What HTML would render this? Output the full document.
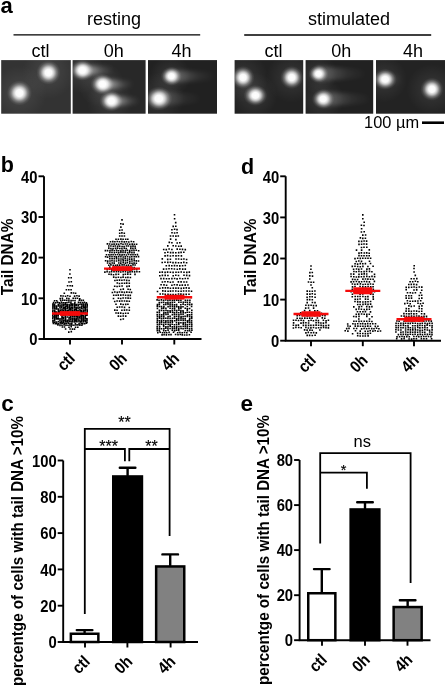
<!DOCTYPE html><html><head><meta charset="utf-8"><style>html,body{margin:0;padding:0;background:#fff;}svg{display:block}</style></head><body><svg width="445" height="685" viewBox="0 0 445 685" font-family='"Liberation Sans", Arial, sans-serif'><defs><filter id="bl2" x="-50%" y="-50%" width="200%" height="200%"><feGaussianBlur stdDeviation="2.2"/></filter><radialGradient id="hg"><stop offset="0" stop-color="#fff" stop-opacity="1"/><stop offset="0.28" stop-color="#fff" stop-opacity="0.97"/><stop offset="0.46" stop-color="#fff" stop-opacity="0.72"/><stop offset="0.66" stop-color="#fff" stop-opacity="0.32"/><stop offset="0.84" stop-color="#fff" stop-opacity="0.09"/><stop offset="1" stop-color="#fff" stop-opacity="0"/></radialGradient><radialGradient id="gw"><stop offset="0" stop-color="#fff" stop-opacity="0.12"/><stop offset="0.5" stop-color="#fff" stop-opacity="0.05"/><stop offset="1" stop-color="#fff" stop-opacity="0"/></radialGradient><linearGradient id="tg" x1="0" x2="1" y1="0" y2="0"><stop offset="0" stop-color="#fff" stop-opacity="1"/><stop offset="0.25" stop-color="#fff" stop-opacity="0.65"/><stop offset="0.6" stop-color="#fff" stop-opacity="0.22"/><stop offset="1" stop-color="#fff" stop-opacity="0"/></linearGradient><clipPath id="cp0"><rect x="1.2" y="60.1" width="69.6" height="53.6"/></clipPath><clipPath id="cp1"><rect x="72.6" y="60.1" width="73.0" height="53.6"/></clipPath><clipPath id="cp2"><rect x="148" y="60.1" width="69.0" height="53.6"/></clipPath><clipPath id="cp3"><rect x="234.6" y="60.1" width="68.6" height="53.6"/></clipPath><clipPath id="cp4"><rect x="305.6" y="60.1" width="67.6" height="53.6"/></clipPath><clipPath id="cp5"><rect x="376" y="60.1" width="69.0" height="53.6"/></clipPath></defs><text x="0.4" y="12.6" font-size="22" font-weight="bold" text-anchor="start" >a</text><text x="114" y="25" font-size="18" font-weight="normal" text-anchor="middle" >resting</text><text x="349.1" y="25" font-size="18" font-weight="normal" text-anchor="middle" >stimulated</text><path d="M13.5 34.8H200.2M244.2 35H431.2" stroke="#000" stroke-width="1.3"/><text x="40.4" y="56.7" font-size="18" font-weight="normal" text-anchor="middle" >ctl</text><text x="113.8" y="56.7" font-size="18" font-weight="normal" text-anchor="middle" >0h</text><text x="181.5" y="56.7" font-size="18" font-weight="normal" text-anchor="middle" >4h</text><text x="273.5" y="56.7" font-size="18" font-weight="normal" text-anchor="middle" >ctl</text><text x="341.2" y="56.7" font-size="18" font-weight="normal" text-anchor="middle" >0h</text><text x="412.9" y="56.7" font-size="18" font-weight="normal" text-anchor="middle" >4h</text><rect x="1.2" y="60.1" width="69.6" height="53.6" fill="rgb(51,51,51)"/><rect x="72.6" y="60.1" width="73.0" height="53.6" fill="rgb(40,40,40)"/><rect x="148" y="60.1" width="69.0" height="53.6" fill="rgb(33,33,33)"/><rect x="234.6" y="60.1" width="68.6" height="53.6" fill="rgb(34,34,34)"/><rect x="305.6" y="60.1" width="67.6" height="53.6" fill="rgb(33,33,33)"/><rect x="376" y="60.1" width="69.0" height="53.6" fill="rgb(35,35,35)"/><g clip-path="url(#cp0)"><circle cx="48.5" cy="72.6" r="26.4" fill="url(#gw)"/><circle cx="48.5" cy="72.6" r="12" fill="url(#hg)"/></g><g clip-path="url(#cp0)"><circle cx="19.4" cy="93" r="27.5" fill="url(#gw)"/><circle cx="19.4" cy="93" r="12.5" fill="url(#hg)"/></g><g clip-path="url(#cp1)"><path d="M80.9 65.3L112.9 67.3V73.3L80.9 75.3Z" fill="url(#tg)" opacity="0.8" filter="url(#bl2)"/><circle cx="80.9" cy="70.3" r="23.1" fill="url(#gw)"/><ellipse cx="82.10000000000001" cy="70.3" rx="11.8" ry="10.5" fill="url(#hg)"/></g><g clip-path="url(#cp1)"><path d="M101.1 79.2L133.1 81.2V87.2L101.1 89.2Z" fill="url(#tg)" opacity="0.8" filter="url(#bl2)"/><circle cx="101.1" cy="84.2" r="23.1" fill="url(#gw)"/><ellipse cx="102.3" cy="84.2" rx="11.8" ry="10.5" fill="url(#hg)"/></g><g clip-path="url(#cp1)"><path d="M109.9 96.0L139.9 98.0V104.0L109.9 106.0Z" fill="url(#tg)" opacity="0.75" filter="url(#bl2)"/><circle cx="109.9" cy="101" r="23.1" fill="url(#gw)"/><ellipse cx="111.10000000000001" cy="101" rx="11.8" ry="10.5" fill="url(#hg)"/></g><g clip-path="url(#cp2)"><path d="M170.1 70.2L215.1 72.6V79.8L170.1 82.2Z" fill="url(#tg)" opacity="0.35" filter="url(#bl2)"/><circle cx="170.1" cy="76.2" r="20.9" fill="url(#gw)"/><ellipse cx="171.29999999999998" cy="76.2" rx="10.6" ry="9.5" fill="url(#hg)"/></g><g clip-path="url(#cp2)"><path d="M157.6 91.6L202.6 94.4V102.8L157.6 105.6Z" fill="url(#tg)" opacity="0.25" filter="url(#bl2)"/><circle cx="157.6" cy="98.6" r="26.4" fill="url(#gw)"/><ellipse cx="158.79999999999998" cy="98.6" rx="13.4" ry="12" fill="url(#hg)"/></g><g clip-path="url(#cp3)"><circle cx="243" cy="77.5" r="25.3" fill="url(#gw)"/><circle cx="243" cy="77.5" r="11.5" fill="url(#hg)"/></g><g clip-path="url(#cp3)"><circle cx="291.7" cy="77.5" r="25.3" fill="url(#gw)"/><circle cx="291.7" cy="77.5" r="11.5" fill="url(#hg)"/></g><g clip-path="url(#cp3)"><path d="M254.2 89.4L268.2 91.8V99.0L254.2 101.4Z" fill="url(#tg)" opacity="0.25" filter="url(#bl2)"/><circle cx="254.2" cy="95.4" r="23.1" fill="url(#gw)"/><ellipse cx="255.39999999999998" cy="95.4" rx="11.8" ry="10.5" fill="url(#hg)"/></g><g clip-path="url(#cp4)"><path d="M317.3 66.8L367.3 69.6V78.0L317.3 80.8Z" fill="url(#tg)" opacity="0.3" filter="url(#bl2)"/><circle cx="317.3" cy="73.8" r="19.8" fill="url(#gw)"/><ellipse cx="318.5" cy="73.8" rx="10.1" ry="9" fill="url(#hg)"/></g><g clip-path="url(#cp4)"><path d="M321.9 92.0L371.9 94.8V103.2L321.9 106.0Z" fill="url(#tg)" opacity="0.3" filter="url(#bl2)"/><circle cx="321.9" cy="99" r="22.0" fill="url(#gw)"/><ellipse cx="323.09999999999997" cy="99" rx="11.2" ry="10" fill="url(#hg)"/></g><g clip-path="url(#cp5)"><path d="M383.9 73.3L401.9 75.7V82.9L383.9 85.3Z" fill="url(#tg)" opacity="0.25" filter="url(#bl2)"/><circle cx="383.9" cy="79.3" r="23.1" fill="url(#gw)"/><ellipse cx="385.09999999999997" cy="79.3" rx="11.8" ry="10.5" fill="url(#hg)"/></g><g clip-path="url(#cp5)"><circle cx="431.9" cy="89.2" r="25.3" fill="url(#gw)"/><circle cx="431.9" cy="89.2" r="11.5" fill="url(#hg)"/></g><text x="391.6" y="128.3" font-size="16.4" font-weight="normal" text-anchor="middle" >100 µm</text><path d="M422 122.7H444" stroke="#000" stroke-width="2.6"/><text x="0.8" y="172.2" font-size="21.5" font-weight="bold" text-anchor="start" >b</text><text x="241" y="173.5" font-size="21.5" font-weight="bold" text-anchor="start" >d</text><path d="M44 176.3V339H201.5" stroke="#000" stroke-width="1.9" fill="none"/><path d="M38.5 339.0H44" stroke="#000" stroke-width="1.9"/><text x="0" y="0" font-size="14.8" font-weight="bold" text-anchor="end" transform="translate(37.5,345.2) scale(1,1.13)">0</text><path d="M38.5 298.3H44" stroke="#000" stroke-width="1.9"/><text x="0" y="0" font-size="14.8" font-weight="bold" text-anchor="end" transform="translate(37.5,304.5) scale(1,1.13)">10</text><path d="M38.5 257.6H44" stroke="#000" stroke-width="1.9"/><text x="0" y="0" font-size="14.8" font-weight="bold" text-anchor="end" transform="translate(37.5,263.8) scale(1,1.13)">20</text><path d="M38.5 217.0H44" stroke="#000" stroke-width="1.9"/><text x="0" y="0" font-size="14.8" font-weight="bold" text-anchor="end" transform="translate(37.5,223.2) scale(1,1.13)">30</text><path d="M38.5 176.3H44" stroke="#000" stroke-width="1.9"/><text x="0" y="0" font-size="14.8" font-weight="bold" text-anchor="end" transform="translate(37.5,182.5) scale(1,1.13)">40</text><path d="M70 339V344.5" stroke="#000" stroke-width="1.9"/><text x="0" y="0" font-size="15" font-weight="bold" text-anchor="end" transform="translate(76,359.5) rotate(-45) scale(1,1.1)">ctl</text><path d="M122 339V344.5" stroke="#000" stroke-width="1.9"/><text x="0" y="0" font-size="15" font-weight="bold" text-anchor="end" transform="translate(128,359.5) rotate(-45) scale(1,1.1)">0h</text><path d="M174.3 339V344.5" stroke="#000" stroke-width="1.9"/><text x="0" y="0" font-size="15" font-weight="bold" text-anchor="end" transform="translate(180.3,359.5) rotate(-45) scale(1,1.1)">4h</text><text x="0" y="0" font-size="15.4" font-weight="bold" text-anchor="middle" transform="translate(13.4,256.8) rotate(-90) scale(1,1.12)">Tail DNA%</text><path d="M285.7 176.3V340.7H441" stroke="#000" stroke-width="1.9" fill="none"/><path d="M280.2 340.7H285.7" stroke="#000" stroke-width="1.9"/><text x="0" y="0" font-size="14.8" font-weight="bold" text-anchor="end" transform="translate(279.2,346.9) scale(1,1.13)">0</text><path d="M280.2 299.6H285.7" stroke="#000" stroke-width="1.9"/><text x="0" y="0" font-size="14.8" font-weight="bold" text-anchor="end" transform="translate(279.2,305.8) scale(1,1.13)">10</text><path d="M280.2 258.5H285.7" stroke="#000" stroke-width="1.9"/><text x="0" y="0" font-size="14.8" font-weight="bold" text-anchor="end" transform="translate(279.2,264.7) scale(1,1.13)">20</text><path d="M280.2 217.4H285.7" stroke="#000" stroke-width="1.9"/><text x="0" y="0" font-size="14.8" font-weight="bold" text-anchor="end" transform="translate(279.2,223.6) scale(1,1.13)">30</text><path d="M280.2 176.3H285.7" stroke="#000" stroke-width="1.9"/><text x="0" y="0" font-size="14.8" font-weight="bold" text-anchor="end" transform="translate(279.2,182.5) scale(1,1.13)">40</text><path d="M311 340.7V346.2" stroke="#000" stroke-width="1.9"/><text x="0" y="0" font-size="15" font-weight="bold" text-anchor="end" transform="translate(317,361.2) rotate(-45) scale(1,1.1)">ctl</text><path d="M362.8 340.7V346.2" stroke="#000" stroke-width="1.9"/><text x="0" y="0" font-size="15" font-weight="bold" text-anchor="end" transform="translate(368.8,361.2) rotate(-45) scale(1,1.1)">0h</text><path d="M414 340.7V346.2" stroke="#000" stroke-width="1.9"/><text x="0" y="0" font-size="15" font-weight="bold" text-anchor="end" transform="translate(420,361.2) rotate(-45) scale(1,1.1)">4h</text><text x="0" y="0" font-size="15.4" font-weight="bold" text-anchor="middle" transform="translate(256.3,256.8) rotate(-90) scale(1,1.12)">Tail DNA%</text><path d="M69.2 268.9h1.6v1.6h-1.6zM69.1 273.2h1.6v1.6h-1.6zM67.9 277.0h1.6v1.6h-1.6zM70.4 277.0h1.6v1.6h-1.6zM68.2 281.2h1.6v1.6h-1.6zM70.5 280.9h1.6v1.6h-1.6zM66.8 285.0h1.6v1.6h-1.6zM69.3 285.0h1.6v1.6h-1.6zM71.5 285.1h1.6v1.6h-1.6zM65.6 288.9h1.6v1.6h-1.6zM68.0 288.9h1.6v1.6h-1.6zM70.3 288.9h1.6v1.6h-1.6zM63.5 292.4h1.6v1.6h-1.6zM70.5 292.1h1.6v1.6h-1.6zM72.7 292.2h1.6v1.6h-1.6zM74.8 292.5h1.6v1.6h-1.6zM60.1 295.1h1.6v1.6h-1.6zM62.3 295.2h1.6v1.6h-1.6zM64.7 295.5h1.6v1.6h-1.6zM66.9 294.9h1.6v1.6h-1.6zM69.2 295.5h1.6v1.6h-1.6zM73.8 295.3h1.6v1.6h-1.6zM76.1 295.0h1.6v1.6h-1.6zM78.3 295.3h1.6v1.6h-1.6zM59.4 297.8h1.6v1.6h-1.6zM61.6 297.6h1.6v1.6h-1.6zM66.0 297.5h1.6v1.6h-1.6zM68.1 297.8h1.6v1.6h-1.6zM72.4 297.4h1.6v1.6h-1.6zM74.6 297.6h1.6v1.6h-1.6zM76.7 297.5h1.6v1.6h-1.6zM79.0 297.9h1.6v1.6h-1.6zM53.8 299.9h1.6v1.6h-1.6zM55.9 299.9h1.6v1.6h-1.6zM59.9 299.7h1.6v1.6h-1.6zM62.0 299.5h1.6v1.6h-1.6zM64.0 299.5h1.6v1.6h-1.6zM66.0 299.5h1.6v1.6h-1.6zM68.1 299.7h1.6v1.6h-1.6zM70.3 299.8h1.6v1.6h-1.6zM72.2 299.7h1.6v1.6h-1.6zM74.2 300.0h1.6v1.6h-1.6zM78.5 299.5h1.6v1.6h-1.6zM80.5 299.6h1.6v1.6h-1.6zM82.5 299.5h1.6v1.6h-1.6zM52.8 301.7h1.6v1.6h-1.6zM54.9 302.0h1.6v1.6h-1.6zM56.8 301.6h1.6v1.6h-1.6zM58.6 301.9h1.6v1.6h-1.6zM60.7 301.6h1.6v1.6h-1.6zM62.6 302.0h1.6v1.6h-1.6zM64.5 301.9h1.6v1.6h-1.6zM66.2 301.7h1.6v1.6h-1.6zM68.1 301.4h1.6v1.6h-1.6zM70.1 301.8h1.6v1.6h-1.6zM74.1 302.0h1.6v1.6h-1.6zM77.7 301.5h1.6v1.6h-1.6zM79.6 301.8h1.6v1.6h-1.6zM81.7 301.7h1.6v1.6h-1.6zM83.6 301.4h1.6v1.6h-1.6zM85.6 301.9h1.6v1.6h-1.6zM52.1 303.3h1.6v1.6h-1.6zM53.8 303.6h1.6v1.6h-1.6zM57.5 303.7h1.6v1.6h-1.6zM59.2 303.2h1.6v1.6h-1.6zM61.2 303.6h1.6v1.6h-1.6zM63.0 303.7h1.6v1.6h-1.6zM64.7 303.5h1.6v1.6h-1.6zM66.4 303.7h1.6v1.6h-1.6zM68.3 303.7h1.6v1.6h-1.6zM70.2 303.6h1.6v1.6h-1.6zM71.8 303.3h1.6v1.6h-1.6zM73.7 303.3h1.6v1.6h-1.6zM75.4 303.7h1.6v1.6h-1.6zM77.3 303.5h1.6v1.6h-1.6zM79.1 303.7h1.6v1.6h-1.6zM80.9 303.5h1.6v1.6h-1.6zM82.7 303.3h1.6v1.6h-1.6zM84.6 303.3h1.6v1.6h-1.6zM86.4 303.5h1.6v1.6h-1.6zM52.1 305.1h1.6v1.6h-1.6zM53.8 305.1h1.6v1.6h-1.6zM55.6 305.2h1.6v1.6h-1.6zM57.5 305.2h1.6v1.6h-1.6zM59.3 305.1h1.6v1.6h-1.6zM61.1 305.2h1.6v1.6h-1.6zM62.9 305.0h1.6v1.6h-1.6zM64.8 305.3h1.6v1.6h-1.6zM66.4 305.1h1.6v1.6h-1.6zM68.4 304.8h1.6v1.6h-1.6zM70.1 304.8h1.6v1.6h-1.6zM71.8 305.1h1.6v1.6h-1.6zM73.8 304.8h1.6v1.6h-1.6zM75.5 304.8h1.6v1.6h-1.6zM77.4 304.9h1.6v1.6h-1.6zM80.9 305.3h1.6v1.6h-1.6zM82.6 305.0h1.6v1.6h-1.6zM84.5 304.9h1.6v1.6h-1.6zM86.4 304.8h1.6v1.6h-1.6zM52.1 306.4h1.6v1.6h-1.6zM53.9 306.7h1.6v1.6h-1.6zM55.8 306.8h1.6v1.6h-1.6zM59.2 306.4h1.6v1.6h-1.6zM61.0 306.4h1.6v1.6h-1.6zM63.0 306.8h1.6v1.6h-1.6zM64.6 306.9h1.6v1.6h-1.6zM66.6 306.4h1.6v1.6h-1.6zM68.4 306.6h1.6v1.6h-1.6zM70.2 306.7h1.6v1.6h-1.6zM71.8 306.9h1.6v1.6h-1.6zM73.8 306.6h1.6v1.6h-1.6zM75.5 306.9h1.6v1.6h-1.6zM77.2 306.7h1.6v1.6h-1.6zM79.0 306.4h1.6v1.6h-1.6zM80.8 306.5h1.6v1.6h-1.6zM82.8 306.5h1.6v1.6h-1.6zM84.4 306.6h1.6v1.6h-1.6zM86.2 306.4h1.6v1.6h-1.6zM52.1 308.1h1.6v1.6h-1.6zM54.0 308.0h1.6v1.6h-1.6zM55.7 308.2h1.6v1.6h-1.6zM57.5 308.3h1.6v1.6h-1.6zM59.4 308.2h1.6v1.6h-1.6zM61.2 308.3h1.6v1.6h-1.6zM62.9 308.0h1.6v1.6h-1.6zM64.6 308.4h1.6v1.6h-1.6zM66.4 308.0h1.6v1.6h-1.6zM68.4 308.3h1.6v1.6h-1.6zM70.0 308.1h1.6v1.6h-1.6zM71.8 308.2h1.6v1.6h-1.6zM73.8 308.5h1.6v1.6h-1.6zM75.4 308.5h1.6v1.6h-1.6zM77.3 307.9h1.6v1.6h-1.6zM79.1 308.2h1.6v1.6h-1.6zM80.9 307.9h1.6v1.6h-1.6zM82.6 308.2h1.6v1.6h-1.6zM84.4 308.1h1.6v1.6h-1.6zM86.3 308.3h1.6v1.6h-1.6zM52.1 310.0h1.6v1.6h-1.6zM53.9 309.7h1.6v1.6h-1.6zM57.6 309.9h1.6v1.6h-1.6zM59.4 310.1h1.6v1.6h-1.6zM61.2 310.0h1.6v1.6h-1.6zM62.9 309.8h1.6v1.6h-1.6zM64.8 310.0h1.6v1.6h-1.6zM66.6 310.0h1.6v1.6h-1.6zM68.2 309.6h1.6v1.6h-1.6zM70.1 309.6h1.6v1.6h-1.6zM71.9 309.9h1.6v1.6h-1.6zM73.8 309.8h1.6v1.6h-1.6zM75.6 310.0h1.6v1.6h-1.6zM77.3 309.9h1.6v1.6h-1.6zM79.2 309.7h1.6v1.6h-1.6zM80.8 310.0h1.6v1.6h-1.6zM82.8 310.1h1.6v1.6h-1.6zM84.5 309.8h1.6v1.6h-1.6zM86.4 309.9h1.6v1.6h-1.6zM52.0 311.2h1.6v1.6h-1.6zM54.0 311.3h1.6v1.6h-1.6zM55.6 311.2h1.6v1.6h-1.6zM57.6 311.6h1.6v1.6h-1.6zM59.2 311.5h1.6v1.6h-1.6zM61.1 311.2h1.6v1.6h-1.6zM62.8 311.7h1.6v1.6h-1.6zM64.6 311.4h1.6v1.6h-1.6zM66.6 311.4h1.6v1.6h-1.6zM68.2 311.7h1.6v1.6h-1.6zM70.1 311.2h1.6v1.6h-1.6zM72.0 311.2h1.6v1.6h-1.6zM73.7 311.7h1.6v1.6h-1.6zM75.4 311.7h1.6v1.6h-1.6zM77.2 311.1h1.6v1.6h-1.6zM79.1 311.3h1.6v1.6h-1.6zM80.9 311.3h1.6v1.6h-1.6zM82.6 311.6h1.6v1.6h-1.6zM84.4 311.7h1.6v1.6h-1.6zM86.4 311.3h1.6v1.6h-1.6zM52.1 313.3h1.6v1.6h-1.6zM53.9 313.0h1.6v1.6h-1.6zM55.6 312.8h1.6v1.6h-1.6zM57.4 313.3h1.6v1.6h-1.6zM59.2 313.1h1.6v1.6h-1.6zM61.1 313.3h1.6v1.6h-1.6zM63.0 313.1h1.6v1.6h-1.6zM64.8 313.1h1.6v1.6h-1.6zM66.4 313.2h1.6v1.6h-1.6zM68.4 313.1h1.6v1.6h-1.6zM70.0 313.3h1.6v1.6h-1.6zM71.9 313.0h1.6v1.6h-1.6zM73.8 313.3h1.6v1.6h-1.6zM75.5 312.9h1.6v1.6h-1.6zM77.3 312.8h1.6v1.6h-1.6zM79.0 313.3h1.6v1.6h-1.6zM80.8 313.3h1.6v1.6h-1.6zM84.4 312.9h1.6v1.6h-1.6zM86.3 312.8h1.6v1.6h-1.6zM52.0 314.7h1.6v1.6h-1.6zM54.0 314.6h1.6v1.6h-1.6zM55.7 314.6h1.6v1.6h-1.6zM57.4 314.5h1.6v1.6h-1.6zM61.1 314.7h1.6v1.6h-1.6zM62.8 314.5h1.6v1.6h-1.6zM64.7 314.6h1.6v1.6h-1.6zM68.4 314.4h1.6v1.6h-1.6zM70.2 314.9h1.6v1.6h-1.6zM71.9 314.3h1.6v1.6h-1.6zM73.8 314.8h1.6v1.6h-1.6zM75.6 314.5h1.6v1.6h-1.6zM77.2 314.7h1.6v1.6h-1.6zM79.2 314.8h1.6v1.6h-1.6zM81.0 314.6h1.6v1.6h-1.6zM82.6 314.8h1.6v1.6h-1.6zM84.6 314.7h1.6v1.6h-1.6zM86.2 314.5h1.6v1.6h-1.6zM52.2 316.0h1.6v1.6h-1.6zM53.9 316.3h1.6v1.6h-1.6zM55.6 316.3h1.6v1.6h-1.6zM57.4 316.2h1.6v1.6h-1.6zM61.2 316.2h1.6v1.6h-1.6zM62.8 316.5h1.6v1.6h-1.6zM64.6 316.0h1.6v1.6h-1.6zM66.6 316.2h1.6v1.6h-1.6zM68.4 316.5h1.6v1.6h-1.6zM70.0 316.1h1.6v1.6h-1.6zM72.0 316.1h1.6v1.6h-1.6zM73.8 316.2h1.6v1.6h-1.6zM75.6 316.1h1.6v1.6h-1.6zM77.2 316.1h1.6v1.6h-1.6zM79.0 316.5h1.6v1.6h-1.6zM80.8 316.1h1.6v1.6h-1.6zM82.7 316.5h1.6v1.6h-1.6zM84.5 316.1h1.6v1.6h-1.6zM52.0 317.6h1.6v1.6h-1.6zM54.0 318.1h1.6v1.6h-1.6zM55.8 318.1h1.6v1.6h-1.6zM57.4 318.1h1.6v1.6h-1.6zM59.2 317.9h1.6v1.6h-1.6zM61.1 317.7h1.6v1.6h-1.6zM62.8 317.7h1.6v1.6h-1.6zM64.8 317.6h1.6v1.6h-1.6zM68.3 318.0h1.6v1.6h-1.6zM70.1 317.6h1.6v1.6h-1.6zM71.9 318.1h1.6v1.6h-1.6zM73.7 318.1h1.6v1.6h-1.6zM75.5 318.0h1.6v1.6h-1.6zM77.2 317.6h1.6v1.6h-1.6zM79.2 317.7h1.6v1.6h-1.6zM81.0 317.8h1.6v1.6h-1.6zM82.8 317.9h1.6v1.6h-1.6zM84.6 317.7h1.6v1.6h-1.6zM86.2 318.0h1.6v1.6h-1.6zM52.1 319.7h1.6v1.6h-1.6zM53.8 319.4h1.6v1.6h-1.6zM59.2 319.4h1.6v1.6h-1.6zM61.2 319.3h1.6v1.6h-1.6zM63.0 319.6h1.6v1.6h-1.6zM64.7 319.3h1.6v1.6h-1.6zM66.5 319.6h1.6v1.6h-1.6zM68.2 319.6h1.6v1.6h-1.6zM70.0 319.2h1.6v1.6h-1.6zM71.8 319.7h1.6v1.6h-1.6zM73.8 319.3h1.6v1.6h-1.6zM75.4 319.4h1.6v1.6h-1.6zM77.3 319.3h1.6v1.6h-1.6zM79.1 319.6h1.6v1.6h-1.6zM81.0 319.5h1.6v1.6h-1.6zM82.8 319.3h1.6v1.6h-1.6zM84.5 319.6h1.6v1.6h-1.6zM86.2 319.3h1.6v1.6h-1.6zM52.2 321.1h1.6v1.6h-1.6zM53.9 321.3h1.6v1.6h-1.6zM55.6 321.2h1.6v1.6h-1.6zM57.6 320.8h1.6v1.6h-1.6zM59.4 321.3h1.6v1.6h-1.6zM61.0 320.9h1.6v1.6h-1.6zM62.8 321.3h1.6v1.6h-1.6zM64.8 321.0h1.6v1.6h-1.6zM66.5 320.9h1.6v1.6h-1.6zM68.4 320.8h1.6v1.6h-1.6zM70.1 320.9h1.6v1.6h-1.6zM71.8 320.9h1.6v1.6h-1.6zM73.7 321.1h1.6v1.6h-1.6zM75.4 320.9h1.6v1.6h-1.6zM77.2 320.9h1.6v1.6h-1.6zM79.2 321.1h1.6v1.6h-1.6zM80.8 321.0h1.6v1.6h-1.6zM82.7 320.8h1.6v1.6h-1.6zM84.6 321.0h1.6v1.6h-1.6zM86.2 321.3h1.6v1.6h-1.6zM52.6 322.6h1.6v1.6h-1.6zM54.6 322.9h1.6v1.6h-1.6zM56.2 322.8h1.6v1.6h-1.6zM58.0 322.9h1.6v1.6h-1.6zM60.1 322.6h1.6v1.6h-1.6zM61.8 322.4h1.6v1.6h-1.6zM63.7 322.7h1.6v1.6h-1.6zM65.4 322.7h1.6v1.6h-1.6zM67.4 322.4h1.6v1.6h-1.6zM69.2 322.9h1.6v1.6h-1.6zM71.0 322.8h1.6v1.6h-1.6zM74.6 322.9h1.6v1.6h-1.6zM78.3 322.9h1.6v1.6h-1.6zM80.4 322.7h1.6v1.6h-1.6zM82.0 322.8h1.6v1.6h-1.6zM83.9 322.9h1.6v1.6h-1.6zM85.7 322.5h1.6v1.6h-1.6zM57.1 324.1h1.6v1.6h-1.6zM59.2 324.6h1.6v1.6h-1.6zM61.2 324.5h1.6v1.6h-1.6zM63.3 324.1h1.6v1.6h-1.6zM65.2 324.4h1.6v1.6h-1.6zM67.2 324.4h1.6v1.6h-1.6zM69.2 324.3h1.6v1.6h-1.6zM71.1 324.4h1.6v1.6h-1.6zM73.1 324.5h1.6v1.6h-1.6zM75.2 324.1h1.6v1.6h-1.6zM77.1 324.1h1.6v1.6h-1.6zM79.1 324.3h1.6v1.6h-1.6zM81.1 324.4h1.6v1.6h-1.6zM61.6 326.2h1.6v1.6h-1.6zM63.7 326.2h1.6v1.6h-1.6zM68.2 326.5h1.6v1.6h-1.6zM70.4 326.0h1.6v1.6h-1.6zM74.8 326.5h1.6v1.6h-1.6zM77.0 326.5h1.6v1.6h-1.6zM64.8 328.2h1.6v1.6h-1.6zM69.3 328.2h1.6v1.6h-1.6zM71.6 328.3h1.6v1.6h-1.6zM73.7 328.3h1.6v1.6h-1.6zM68.0 331.3h1.6v1.6h-1.6zM70.5 330.8h1.6v1.6h-1.6zM121.2 219.1h1.6v1.6h-1.6zM120.0 223.0h1.6v1.6h-1.6zM122.3 223.3h1.6v1.6h-1.6zM120.1 226.3h1.6v1.6h-1.6zM118.9 229.4h1.6v1.6h-1.6zM121.3 229.2h1.6v1.6h-1.6zM118.9 232.5h1.6v1.6h-1.6zM121.1 232.1h1.6v1.6h-1.6zM123.5 232.5h1.6v1.6h-1.6zM118.9 235.2h1.6v1.6h-1.6zM121.2 235.2h1.6v1.6h-1.6zM123.6 235.2h1.6v1.6h-1.6zM115.2 238.5h1.6v1.6h-1.6zM117.6 238.4h1.6v1.6h-1.6zM120.1 238.3h1.6v1.6h-1.6zM122.3 238.5h1.6v1.6h-1.6zM124.9 238.4h1.6v1.6h-1.6zM127.0 238.5h1.6v1.6h-1.6zM109.7 241.0h1.6v1.6h-1.6zM112.0 240.8h1.6v1.6h-1.6zM114.1 241.0h1.6v1.6h-1.6zM116.5 240.7h1.6v1.6h-1.6zM118.7 241.0h1.6v1.6h-1.6zM121.1 240.8h1.6v1.6h-1.6zM123.5 241.1h1.6v1.6h-1.6zM125.7 240.9h1.6v1.6h-1.6zM128.0 241.2h1.6v1.6h-1.6zM130.5 240.7h1.6v1.6h-1.6zM132.8 241.0h1.6v1.6h-1.6zM106.6 243.1h1.6v1.6h-1.6zM108.8 243.2h1.6v1.6h-1.6zM111.2 243.5h1.6v1.6h-1.6zM113.3 243.3h1.6v1.6h-1.6zM115.7 243.3h1.6v1.6h-1.6zM117.9 243.6h1.6v1.6h-1.6zM120.2 243.0h1.6v1.6h-1.6zM122.2 243.5h1.6v1.6h-1.6zM124.6 243.2h1.6v1.6h-1.6zM126.7 243.2h1.6v1.6h-1.6zM129.0 243.4h1.6v1.6h-1.6zM131.4 243.3h1.6v1.6h-1.6zM133.5 243.5h1.6v1.6h-1.6zM135.8 243.4h1.6v1.6h-1.6zM108.0 245.2h1.6v1.6h-1.6zM110.1 245.2h1.6v1.6h-1.6zM112.5 245.4h1.6v1.6h-1.6zM114.5 245.2h1.6v1.6h-1.6zM116.8 245.6h1.6v1.6h-1.6zM118.9 245.5h1.6v1.6h-1.6zM121.3 245.7h1.6v1.6h-1.6zM123.3 245.7h1.6v1.6h-1.6zM125.7 245.2h1.6v1.6h-1.6zM127.7 245.2h1.6v1.6h-1.6zM130.1 245.6h1.6v1.6h-1.6zM132.2 245.3h1.6v1.6h-1.6zM134.3 245.6h1.6v1.6h-1.6zM108.0 247.3h1.6v1.6h-1.6zM110.1 247.7h1.6v1.6h-1.6zM112.3 247.8h1.6v1.6h-1.6zM114.7 247.6h1.6v1.6h-1.6zM116.8 247.5h1.6v1.6h-1.6zM119.0 247.7h1.6v1.6h-1.6zM121.1 247.8h1.6v1.6h-1.6zM123.5 247.4h1.6v1.6h-1.6zM125.5 247.7h1.6v1.6h-1.6zM130.0 247.6h1.6v1.6h-1.6zM132.1 247.6h1.6v1.6h-1.6zM134.5 247.4h1.6v1.6h-1.6zM104.6 249.8h1.6v1.6h-1.6zM106.8 249.8h1.6v1.6h-1.6zM109.2 249.8h1.6v1.6h-1.6zM111.3 249.6h1.6v1.6h-1.6zM113.5 249.9h1.6v1.6h-1.6zM115.8 249.4h1.6v1.6h-1.6zM117.8 249.9h1.6v1.6h-1.6zM120.1 249.9h1.6v1.6h-1.6zM122.3 249.7h1.6v1.6h-1.6zM124.6 249.8h1.6v1.6h-1.6zM126.6 249.5h1.6v1.6h-1.6zM128.9 249.8h1.6v1.6h-1.6zM131.1 249.8h1.6v1.6h-1.6zM133.2 249.6h1.6v1.6h-1.6zM135.4 249.5h1.6v1.6h-1.6zM137.8 249.9h1.6v1.6h-1.6zM109.0 251.7h1.6v1.6h-1.6zM111.2 251.7h1.6v1.6h-1.6zM113.6 251.9h1.6v1.6h-1.6zM115.8 251.5h1.6v1.6h-1.6zM118.0 251.9h1.6v1.6h-1.6zM120.1 251.6h1.6v1.6h-1.6zM122.2 251.6h1.6v1.6h-1.6zM124.4 251.7h1.6v1.6h-1.6zM126.8 251.8h1.6v1.6h-1.6zM128.9 251.6h1.6v1.6h-1.6zM131.1 251.9h1.6v1.6h-1.6zM133.3 251.8h1.6v1.6h-1.6zM105.7 254.0h1.6v1.6h-1.6zM108.1 254.0h1.6v1.6h-1.6zM110.3 254.0h1.6v1.6h-1.6zM112.3 253.9h1.6v1.6h-1.6zM114.6 254.0h1.6v1.6h-1.6zM116.8 253.7h1.6v1.6h-1.6zM119.0 253.9h1.6v1.6h-1.6zM121.3 254.1h1.6v1.6h-1.6zM123.4 254.0h1.6v1.6h-1.6zM125.6 254.2h1.6v1.6h-1.6zM127.8 253.7h1.6v1.6h-1.6zM130.1 253.9h1.6v1.6h-1.6zM132.2 253.9h1.6v1.6h-1.6zM134.4 254.0h1.6v1.6h-1.6zM136.6 253.8h1.6v1.6h-1.6zM104.8 255.9h1.6v1.6h-1.6zM106.8 256.3h1.6v1.6h-1.6zM109.0 255.8h1.6v1.6h-1.6zM111.2 255.9h1.6v1.6h-1.6zM113.6 255.9h1.6v1.6h-1.6zM115.6 256.1h1.6v1.6h-1.6zM117.9 255.8h1.6v1.6h-1.6zM120.1 255.8h1.6v1.6h-1.6zM122.4 256.2h1.6v1.6h-1.6zM124.5 256.0h1.6v1.6h-1.6zM126.8 255.9h1.6v1.6h-1.6zM129.0 256.2h1.6v1.6h-1.6zM131.0 256.0h1.6v1.6h-1.6zM133.4 255.9h1.6v1.6h-1.6zM135.4 255.9h1.6v1.6h-1.6zM137.7 255.8h1.6v1.6h-1.6zM109.0 257.9h1.6v1.6h-1.6zM111.3 258.0h1.6v1.6h-1.6zM113.5 258.0h1.6v1.6h-1.6zM115.8 257.8h1.6v1.6h-1.6zM118.0 258.2h1.6v1.6h-1.6zM120.2 258.2h1.6v1.6h-1.6zM122.2 258.3h1.6v1.6h-1.6zM124.4 257.8h1.6v1.6h-1.6zM126.6 258.2h1.6v1.6h-1.6zM128.8 258.3h1.6v1.6h-1.6zM131.0 258.3h1.6v1.6h-1.6zM133.4 258.2h1.6v1.6h-1.6zM104.8 260.0h1.6v1.6h-1.6zM106.9 260.3h1.6v1.6h-1.6zM109.2 260.2h1.6v1.6h-1.6zM111.2 260.0h1.6v1.6h-1.6zM113.4 260.2h1.6v1.6h-1.6zM115.7 260.2h1.6v1.6h-1.6zM118.0 259.9h1.6v1.6h-1.6zM120.1 260.2h1.6v1.6h-1.6zM122.4 260.1h1.6v1.6h-1.6zM124.6 259.9h1.6v1.6h-1.6zM126.7 259.9h1.6v1.6h-1.6zM129.0 260.4h1.6v1.6h-1.6zM131.2 260.2h1.6v1.6h-1.6zM133.4 259.9h1.6v1.6h-1.6zM135.5 260.1h1.6v1.6h-1.6zM137.7 260.2h1.6v1.6h-1.6zM106.8 262.2h1.6v1.6h-1.6zM109.1 262.5h1.6v1.6h-1.6zM111.4 262.2h1.6v1.6h-1.6zM113.4 262.3h1.6v1.6h-1.6zM118.0 262.2h1.6v1.6h-1.6zM120.0 262.3h1.6v1.6h-1.6zM122.4 262.0h1.6v1.6h-1.6zM124.6 262.3h1.6v1.6h-1.6zM126.6 262.0h1.6v1.6h-1.6zM129.0 262.3h1.6v1.6h-1.6zM131.2 262.5h1.6v1.6h-1.6zM133.3 262.3h1.6v1.6h-1.6zM135.5 262.4h1.6v1.6h-1.6zM108.0 264.5h1.6v1.6h-1.6zM110.1 264.1h1.6v1.6h-1.6zM112.5 264.5h1.6v1.6h-1.6zM114.7 264.5h1.6v1.6h-1.6zM116.7 264.3h1.6v1.6h-1.6zM118.9 264.3h1.6v1.6h-1.6zM121.3 264.1h1.6v1.6h-1.6zM123.3 264.1h1.6v1.6h-1.6zM125.6 264.6h1.6v1.6h-1.6zM127.7 264.3h1.6v1.6h-1.6zM130.1 264.7h1.6v1.6h-1.6zM132.2 264.1h1.6v1.6h-1.6zM134.3 264.2h1.6v1.6h-1.6zM109.0 266.3h1.6v1.6h-1.6zM113.5 266.3h1.6v1.6h-1.6zM115.7 266.3h1.6v1.6h-1.6zM117.8 266.2h1.6v1.6h-1.6zM120.1 266.7h1.6v1.6h-1.6zM122.2 266.6h1.6v1.6h-1.6zM124.5 266.7h1.6v1.6h-1.6zM126.9 266.6h1.6v1.6h-1.6zM128.9 266.6h1.6v1.6h-1.6zM131.1 266.4h1.6v1.6h-1.6zM133.4 266.7h1.6v1.6h-1.6zM106.4 268.8h1.6v1.6h-1.6zM108.8 268.5h1.6v1.6h-1.6zM111.0 268.8h1.6v1.6h-1.6zM113.2 268.6h1.6v1.6h-1.6zM115.7 268.9h1.6v1.6h-1.6zM117.7 268.4h1.6v1.6h-1.6zM122.4 268.6h1.6v1.6h-1.6zM124.7 268.9h1.6v1.6h-1.6zM126.8 268.7h1.6v1.6h-1.6zM129.1 268.8h1.6v1.6h-1.6zM131.5 268.9h1.6v1.6h-1.6zM133.5 268.6h1.6v1.6h-1.6zM135.9 268.9h1.6v1.6h-1.6zM104.1 271.3h1.6v1.6h-1.6zM106.3 270.9h1.6v1.6h-1.6zM108.7 271.2h1.6v1.6h-1.6zM110.8 270.8h1.6v1.6h-1.6zM113.2 270.9h1.6v1.6h-1.6zM115.6 270.9h1.6v1.6h-1.6zM117.8 271.0h1.6v1.6h-1.6zM120.0 271.2h1.6v1.6h-1.6zM122.3 270.8h1.6v1.6h-1.6zM124.7 270.9h1.6v1.6h-1.6zM127.1 271.3h1.6v1.6h-1.6zM129.2 271.1h1.6v1.6h-1.6zM131.4 270.9h1.6v1.6h-1.6zM133.8 271.1h1.6v1.6h-1.6zM136.1 270.9h1.6v1.6h-1.6zM138.6 271.0h1.6v1.6h-1.6zM108.2 273.4h1.6v1.6h-1.6zM110.4 273.6h1.6v1.6h-1.6zM112.7 273.9h1.6v1.6h-1.6zM115.2 273.6h1.6v1.6h-1.6zM117.7 273.5h1.6v1.6h-1.6zM122.5 273.8h1.6v1.6h-1.6zM124.6 273.4h1.6v1.6h-1.6zM127.0 273.3h1.6v1.6h-1.6zM129.6 273.5h1.6v1.6h-1.6zM134.2 273.6h1.6v1.6h-1.6zM112.9 276.3h1.6v1.6h-1.6zM115.2 276.7h1.6v1.6h-1.6zM117.6 276.4h1.6v1.6h-1.6zM120.1 276.7h1.6v1.6h-1.6zM122.3 276.3h1.6v1.6h-1.6zM124.9 276.7h1.6v1.6h-1.6zM127.1 276.6h1.6v1.6h-1.6zM129.6 276.7h1.6v1.6h-1.6zM114.1 279.7h1.6v1.6h-1.6zM116.3 279.5h1.6v1.6h-1.6zM118.7 279.3h1.6v1.6h-1.6zM121.1 279.4h1.6v1.6h-1.6zM123.5 279.2h1.6v1.6h-1.6zM125.9 279.6h1.6v1.6h-1.6zM128.3 279.7h1.6v1.6h-1.6zM116.5 282.2h1.6v1.6h-1.6zM118.7 282.7h1.6v1.6h-1.6zM121.2 282.4h1.6v1.6h-1.6zM123.7 282.4h1.6v1.6h-1.6zM125.9 282.3h1.6v1.6h-1.6zM128.5 282.5h1.6v1.6h-1.6zM113.9 285.4h1.6v1.6h-1.6zM116.3 285.7h1.6v1.6h-1.6zM118.7 285.4h1.6v1.6h-1.6zM121.3 285.2h1.6v1.6h-1.6zM126.1 285.6h1.6v1.6h-1.6zM128.4 285.3h1.6v1.6h-1.6zM112.8 288.7h1.6v1.6h-1.6zM119.9 288.7h1.6v1.6h-1.6zM122.5 288.3h1.6v1.6h-1.6zM127.3 288.4h1.6v1.6h-1.6zM129.5 288.7h1.6v1.6h-1.6zM111.6 291.7h1.6v1.6h-1.6zM114.0 291.2h1.6v1.6h-1.6zM116.5 291.6h1.6v1.6h-1.6zM118.7 291.2h1.6v1.6h-1.6zM121.2 291.3h1.6v1.6h-1.6zM123.6 291.6h1.6v1.6h-1.6zM126.0 291.3h1.6v1.6h-1.6zM128.5 291.4h1.6v1.6h-1.6zM130.7 291.6h1.6v1.6h-1.6zM112.9 294.5h1.6v1.6h-1.6zM115.3 294.4h1.6v1.6h-1.6zM117.5 294.3h1.6v1.6h-1.6zM120.0 294.3h1.6v1.6h-1.6zM122.4 294.2h1.6v1.6h-1.6zM124.8 294.5h1.6v1.6h-1.6zM127.3 294.6h1.6v1.6h-1.6zM129.5 294.6h1.6v1.6h-1.6zM112.7 297.7h1.6v1.6h-1.6zM117.6 297.5h1.6v1.6h-1.6zM119.9 297.7h1.6v1.6h-1.6zM122.3 297.2h1.6v1.6h-1.6zM124.9 297.2h1.6v1.6h-1.6zM127.3 297.3h1.6v1.6h-1.6zM129.6 297.5h1.6v1.6h-1.6zM113.9 300.7h1.6v1.6h-1.6zM116.3 300.2h1.6v1.6h-1.6zM118.8 300.3h1.6v1.6h-1.6zM121.2 300.2h1.6v1.6h-1.6zM123.7 300.2h1.6v1.6h-1.6zM126.1 300.3h1.6v1.6h-1.6zM128.5 300.4h1.6v1.6h-1.6zM115.2 303.4h1.6v1.6h-1.6zM120.0 303.3h1.6v1.6h-1.6zM122.4 303.7h1.6v1.6h-1.6zM124.9 303.6h1.6v1.6h-1.6zM127.1 303.5h1.6v1.6h-1.6zM116.4 306.5h1.6v1.6h-1.6zM118.8 306.2h1.6v1.6h-1.6zM121.2 306.2h1.6v1.6h-1.6zM123.7 306.6h1.6v1.6h-1.6zM128.5 306.7h1.6v1.6h-1.6zM114.0 309.3h1.6v1.6h-1.6zM116.3 309.5h1.6v1.6h-1.6zM121.1 309.5h1.6v1.6h-1.6zM123.7 309.3h1.6v1.6h-1.6zM126.0 309.2h1.6v1.6h-1.6zM128.5 309.5h1.6v1.6h-1.6zM115.2 312.2h1.6v1.6h-1.6zM117.5 312.3h1.6v1.6h-1.6zM119.9 312.3h1.6v1.6h-1.6zM122.4 312.7h1.6v1.6h-1.6zM124.8 312.5h1.6v1.6h-1.6zM127.3 312.4h1.6v1.6h-1.6zM117.6 315.3h1.6v1.6h-1.6zM119.9 315.5h1.6v1.6h-1.6zM122.4 315.2h1.6v1.6h-1.6zM124.9 315.3h1.6v1.6h-1.6zM119.9 318.7h1.6v1.6h-1.6zM122.5 318.2h1.6v1.6h-1.6zM173.7 213.9h1.6v1.6h-1.6zM173.8 218.0h1.6v1.6h-1.6zM174.9 221.8h1.6v1.6h-1.6zM172.4 225.6h1.6v1.6h-1.6zM175.0 225.5h1.6v1.6h-1.6zM171.1 228.9h1.6v1.6h-1.6zM173.8 228.5h1.6v1.6h-1.6zM176.2 228.8h1.6v1.6h-1.6zM171.2 232.0h1.6v1.6h-1.6zM173.8 232.2h1.6v1.6h-1.6zM176.3 232.0h1.6v1.6h-1.6zM169.7 235.2h1.6v1.6h-1.6zM172.4 235.2h1.6v1.6h-1.6zM175.1 235.3h1.6v1.6h-1.6zM177.5 235.2h1.6v1.6h-1.6zM169.8 238.3h1.6v1.6h-1.6zM175.1 238.8h1.6v1.6h-1.6zM168.5 241.6h1.6v1.6h-1.6zM171.1 241.9h1.6v1.6h-1.6zM176.4 242.2h1.6v1.6h-1.6zM179.0 242.0h1.6v1.6h-1.6zM167.0 245.1h1.6v1.6h-1.6zM172.4 244.9h1.6v1.6h-1.6zM175.0 245.2h1.6v1.6h-1.6zM177.9 245.5h1.6v1.6h-1.6zM180.4 245.3h1.6v1.6h-1.6zM162.9 248.7h1.6v1.6h-1.6zM165.5 248.8h1.6v1.6h-1.6zM168.3 248.2h1.6v1.6h-1.6zM171.1 248.7h1.6v1.6h-1.6zM176.4 248.3h1.6v1.6h-1.6zM179.1 248.5h1.6v1.6h-1.6zM181.7 248.6h1.6v1.6h-1.6zM184.5 248.8h1.6v1.6h-1.6zM164.2 252.0h1.6v1.6h-1.6zM167.0 251.5h1.6v1.6h-1.6zM169.8 251.8h1.6v1.6h-1.6zM172.3 251.8h1.6v1.6h-1.6zM175.0 251.9h1.6v1.6h-1.6zM177.9 251.8h1.6v1.6h-1.6zM180.3 251.6h1.6v1.6h-1.6zM183.0 251.5h1.6v1.6h-1.6zM164.3 255.1h1.6v1.6h-1.6zM166.8 254.8h1.6v1.6h-1.6zM169.6 255.2h1.6v1.6h-1.6zM172.3 254.9h1.6v1.6h-1.6zM175.2 255.1h1.6v1.6h-1.6zM177.7 255.0h1.6v1.6h-1.6zM180.6 255.1h1.6v1.6h-1.6zM161.5 258.1h1.6v1.6h-1.6zM166.9 258.6h1.6v1.6h-1.6zM169.6 258.4h1.6v1.6h-1.6zM175.2 258.2h1.6v1.6h-1.6zM177.8 258.2h1.6v1.6h-1.6zM180.6 258.4h1.6v1.6h-1.6zM183.1 258.2h1.6v1.6h-1.6zM185.8 258.7h1.6v1.6h-1.6zM161.4 261.7h1.6v1.6h-1.6zM164.2 261.4h1.6v1.6h-1.6zM167.0 261.6h1.6v1.6h-1.6zM169.6 261.5h1.6v1.6h-1.6zM172.2 261.8h1.6v1.6h-1.6zM174.9 261.8h1.6v1.6h-1.6zM177.7 261.9h1.6v1.6h-1.6zM180.4 261.9h1.6v1.6h-1.6zM183.0 261.6h1.6v1.6h-1.6zM185.8 262.0h1.6v1.6h-1.6zM165.5 264.9h1.6v1.6h-1.6zM168.4 264.8h1.6v1.6h-1.6zM171.0 264.9h1.6v1.6h-1.6zM173.7 264.8h1.6v1.6h-1.6zM176.3 265.0h1.6v1.6h-1.6zM179.0 265.1h1.6v1.6h-1.6zM181.8 265.0h1.6v1.6h-1.6zM184.5 264.7h1.6v1.6h-1.6zM162.8 268.3h1.6v1.6h-1.6zM165.6 268.2h1.6v1.6h-1.6zM168.2 268.0h1.6v1.6h-1.6zM170.9 268.0h1.6v1.6h-1.6zM173.6 268.2h1.6v1.6h-1.6zM176.5 268.5h1.6v1.6h-1.6zM179.0 268.1h1.6v1.6h-1.6zM181.9 268.3h1.6v1.6h-1.6zM184.5 268.3h1.6v1.6h-1.6zM159.0 271.4h1.6v1.6h-1.6zM161.5 271.3h1.6v1.6h-1.6zM164.3 271.6h1.6v1.6h-1.6zM166.8 271.3h1.6v1.6h-1.6zM169.6 271.4h1.6v1.6h-1.6zM172.3 271.6h1.6v1.6h-1.6zM175.2 271.5h1.6v1.6h-1.6zM177.7 271.5h1.6v1.6h-1.6zM180.4 271.2h1.6v1.6h-1.6zM183.2 271.4h1.6v1.6h-1.6zM186.0 271.6h1.6v1.6h-1.6zM188.5 271.3h1.6v1.6h-1.6zM159.0 274.9h1.6v1.6h-1.6zM161.6 274.6h1.6v1.6h-1.6zM164.4 274.6h1.6v1.6h-1.6zM167.1 274.7h1.6v1.6h-1.6zM172.4 274.9h1.6v1.6h-1.6zM175.0 274.4h1.6v1.6h-1.6zM177.7 274.7h1.6v1.6h-1.6zM183.2 274.4h1.6v1.6h-1.6zM185.9 274.6h1.6v1.6h-1.6zM188.7 274.8h1.6v1.6h-1.6zM160.2 277.8h1.6v1.6h-1.6zM162.9 277.8h1.6v1.6h-1.6zM165.7 278.0h1.6v1.6h-1.6zM168.3 277.9h1.6v1.6h-1.6zM171.1 277.8h1.6v1.6h-1.6zM173.8 277.7h1.6v1.6h-1.6zM176.3 278.1h1.6v1.6h-1.6zM179.1 277.7h1.6v1.6h-1.6zM181.8 277.9h1.6v1.6h-1.6zM184.5 277.7h1.6v1.6h-1.6zM187.1 277.7h1.6v1.6h-1.6zM161.6 281.2h1.6v1.6h-1.6zM164.2 281.0h1.6v1.6h-1.6zM167.0 280.9h1.6v1.6h-1.6zM169.6 281.4h1.6v1.6h-1.6zM172.2 281.2h1.6v1.6h-1.6zM177.6 281.1h1.6v1.6h-1.6zM180.3 281.1h1.6v1.6h-1.6zM183.2 281.2h1.6v1.6h-1.6zM185.8 281.2h1.6v1.6h-1.6zM160.3 283.9h1.6v1.6h-1.6zM163.2 284.1h1.6v1.6h-1.6zM165.8 284.4h1.6v1.6h-1.6zM171.1 284.4h1.6v1.6h-1.6zM173.6 284.0h1.6v1.6h-1.6zM176.3 284.1h1.6v1.6h-1.6zM179.0 284.4h1.6v1.6h-1.6zM181.5 284.3h1.6v1.6h-1.6zM184.4 284.3h1.6v1.6h-1.6zM187.1 284.2h1.6v1.6h-1.6zM159.1 287.4h1.6v1.6h-1.6zM161.9 287.1h1.6v1.6h-1.6zM164.6 287.1h1.6v1.6h-1.6zM167.1 287.1h1.6v1.6h-1.6zM169.6 287.5h1.6v1.6h-1.6zM172.5 287.3h1.6v1.6h-1.6zM175.1 287.3h1.6v1.6h-1.6zM177.6 287.3h1.6v1.6h-1.6zM180.4 287.6h1.6v1.6h-1.6zM182.9 287.3h1.6v1.6h-1.6zM185.5 287.1h1.6v1.6h-1.6zM188.2 287.3h1.6v1.6h-1.6zM156.7 290.7h1.6v1.6h-1.6zM162.0 290.1h1.6v1.6h-1.6zM164.5 290.3h1.6v1.6h-1.6zM167.3 290.4h1.6v1.6h-1.6zM169.7 290.3h1.6v1.6h-1.6zM172.2 290.2h1.6v1.6h-1.6zM175.0 290.2h1.6v1.6h-1.6zM177.6 290.5h1.6v1.6h-1.6zM180.3 290.4h1.6v1.6h-1.6zM182.8 290.2h1.6v1.6h-1.6zM185.5 290.2h1.6v1.6h-1.6zM188.1 290.2h1.6v1.6h-1.6zM190.7 290.4h1.6v1.6h-1.6zM159.4 293.2h1.6v1.6h-1.6zM162.0 293.2h1.6v1.6h-1.6zM164.4 293.4h1.6v1.6h-1.6zM167.2 293.6h1.6v1.6h-1.6zM169.7 293.7h1.6v1.6h-1.6zM172.3 293.7h1.6v1.6h-1.6zM174.9 293.7h1.6v1.6h-1.6zM177.7 293.2h1.6v1.6h-1.6zM180.1 293.3h1.6v1.6h-1.6zM182.7 293.5h1.6v1.6h-1.6zM185.4 293.6h1.6v1.6h-1.6zM188.2 293.5h1.6v1.6h-1.6zM157.2 296.7h1.6v1.6h-1.6zM159.7 296.4h1.6v1.6h-1.6zM162.2 296.7h1.6v1.6h-1.6zM164.7 296.6h1.6v1.6h-1.6zM169.7 296.5h1.6v1.6h-1.6zM172.4 296.7h1.6v1.6h-1.6zM175.1 296.6h1.6v1.6h-1.6zM177.5 296.4h1.6v1.6h-1.6zM180.1 296.2h1.6v1.6h-1.6zM182.6 296.7h1.6v1.6h-1.6zM185.2 296.4h1.6v1.6h-1.6zM187.8 296.3h1.6v1.6h-1.6zM190.4 296.6h1.6v1.6h-1.6zM156.3 299.1h1.6v1.6h-1.6zM158.2 299.4h1.6v1.6h-1.6zM160.6 299.1h1.6v1.6h-1.6zM162.8 299.5h1.6v1.6h-1.6zM164.9 299.2h1.6v1.6h-1.6zM167.1 299.6h1.6v1.6h-1.6zM169.2 299.3h1.6v1.6h-1.6zM171.6 299.5h1.6v1.6h-1.6zM173.6 299.3h1.6v1.6h-1.6zM175.9 299.3h1.6v1.6h-1.6zM177.9 299.5h1.6v1.6h-1.6zM180.1 299.4h1.6v1.6h-1.6zM184.6 299.5h1.6v1.6h-1.6zM186.8 299.4h1.6v1.6h-1.6zM189.1 299.4h1.6v1.6h-1.6zM158.5 301.8h1.6v1.6h-1.6zM160.7 301.7h1.6v1.6h-1.6zM162.8 301.5h1.6v1.6h-1.6zM165.1 301.9h1.6v1.6h-1.6zM167.1 301.8h1.6v1.6h-1.6zM169.4 301.7h1.6v1.6h-1.6zM171.5 301.5h1.6v1.6h-1.6zM173.7 301.5h1.6v1.6h-1.6zM178.0 301.4h1.6v1.6h-1.6zM180.2 301.4h1.6v1.6h-1.6zM182.5 301.6h1.6v1.6h-1.6zM184.6 301.5h1.6v1.6h-1.6zM186.6 301.5h1.6v1.6h-1.6zM189.0 301.6h1.6v1.6h-1.6zM156.6 303.8h1.6v1.6h-1.6zM158.5 303.7h1.6v1.6h-1.6zM163.0 303.7h1.6v1.6h-1.6zM165.0 303.7h1.6v1.6h-1.6zM167.2 303.6h1.6v1.6h-1.6zM169.3 303.6h1.6v1.6h-1.6zM171.5 303.6h1.6v1.6h-1.6zM173.7 303.9h1.6v1.6h-1.6zM175.8 303.8h1.6v1.6h-1.6zM180.0 303.9h1.6v1.6h-1.6zM182.3 303.5h1.6v1.6h-1.6zM184.5 303.9h1.6v1.6h-1.6zM186.8 303.5h1.6v1.6h-1.6zM188.9 303.8h1.6v1.6h-1.6zM191.0 303.6h1.6v1.6h-1.6zM156.5 305.4h1.6v1.6h-1.6zM158.6 305.7h1.6v1.6h-1.6zM160.7 305.7h1.6v1.6h-1.6zM163.1 305.8h1.6v1.6h-1.6zM167.3 305.9h1.6v1.6h-1.6zM169.3 305.5h1.6v1.6h-1.6zM171.6 305.5h1.6v1.6h-1.6zM173.7 305.7h1.6v1.6h-1.6zM175.9 305.8h1.6v1.6h-1.6zM177.9 305.9h1.6v1.6h-1.6zM180.2 305.9h1.6v1.6h-1.6zM182.2 305.9h1.6v1.6h-1.6zM186.5 305.7h1.6v1.6h-1.6zM190.8 305.7h1.6v1.6h-1.6zM156.6 307.6h1.6v1.6h-1.6zM160.9 307.5h1.6v1.6h-1.6zM162.8 307.5h1.6v1.6h-1.6zM165.1 307.5h1.6v1.6h-1.6zM169.3 307.5h1.6v1.6h-1.6zM171.7 307.5h1.6v1.6h-1.6zM173.8 307.6h1.6v1.6h-1.6zM178.0 307.6h1.6v1.6h-1.6zM180.1 307.6h1.6v1.6h-1.6zM184.5 307.5h1.6v1.6h-1.6zM186.6 307.9h1.6v1.6h-1.6zM188.8 307.7h1.6v1.6h-1.6zM158.6 309.6h1.6v1.6h-1.6zM160.8 309.6h1.6v1.6h-1.6zM163.0 309.8h1.6v1.6h-1.6zM165.2 309.6h1.6v1.6h-1.6zM167.1 309.9h1.6v1.6h-1.6zM169.3 309.9h1.6v1.6h-1.6zM171.5 309.6h1.6v1.6h-1.6zM173.8 309.5h1.6v1.6h-1.6zM175.9 309.7h1.6v1.6h-1.6zM178.1 309.5h1.6v1.6h-1.6zM180.1 309.9h1.6v1.6h-1.6zM182.2 309.9h1.6v1.6h-1.6zM186.5 309.5h1.6v1.6h-1.6zM191.0 309.5h1.6v1.6h-1.6zM156.4 311.5h1.6v1.6h-1.6zM158.5 311.6h1.6v1.6h-1.6zM163.1 312.0h1.6v1.6h-1.6zM165.0 311.9h1.6v1.6h-1.6zM167.1 311.7h1.6v1.6h-1.6zM169.4 311.5h1.6v1.6h-1.6zM171.7 311.6h1.6v1.6h-1.6zM173.6 311.7h1.6v1.6h-1.6zM175.8 311.5h1.6v1.6h-1.6zM177.9 311.9h1.6v1.6h-1.6zM180.0 311.6h1.6v1.6h-1.6zM182.4 311.6h1.6v1.6h-1.6zM184.6 312.0h1.6v1.6h-1.6zM186.5 311.5h1.6v1.6h-1.6zM188.6 311.4h1.6v1.6h-1.6zM190.9 311.8h1.6v1.6h-1.6zM156.4 313.8h1.6v1.6h-1.6zM158.7 313.8h1.6v1.6h-1.6zM160.9 313.9h1.6v1.6h-1.6zM162.9 313.6h1.6v1.6h-1.6zM165.2 313.7h1.6v1.6h-1.6zM167.2 313.5h1.6v1.6h-1.6zM171.6 314.0h1.6v1.6h-1.6zM173.7 313.6h1.6v1.6h-1.6zM175.8 313.5h1.6v1.6h-1.6zM178.1 314.0h1.6v1.6h-1.6zM180.2 313.6h1.6v1.6h-1.6zM182.3 313.6h1.6v1.6h-1.6zM186.7 313.9h1.6v1.6h-1.6zM188.8 314.0h1.6v1.6h-1.6zM190.9 313.9h1.6v1.6h-1.6zM156.6 315.7h1.6v1.6h-1.6zM158.7 315.8h1.6v1.6h-1.6zM160.8 315.7h1.6v1.6h-1.6zM163.0 315.6h1.6v1.6h-1.6zM167.3 315.7h1.6v1.6h-1.6zM169.3 315.5h1.6v1.6h-1.6zM173.7 315.7h1.6v1.6h-1.6zM175.8 315.5h1.6v1.6h-1.6zM178.0 315.8h1.6v1.6h-1.6zM180.3 315.9h1.6v1.6h-1.6zM182.3 315.9h1.6v1.6h-1.6zM184.3 315.5h1.6v1.6h-1.6zM186.5 315.6h1.6v1.6h-1.6zM188.8 315.7h1.6v1.6h-1.6zM190.9 316.0h1.6v1.6h-1.6zM156.5 317.7h1.6v1.6h-1.6zM158.7 317.5h1.6v1.6h-1.6zM160.8 317.7h1.6v1.6h-1.6zM162.9 317.6h1.6v1.6h-1.6zM165.0 317.5h1.6v1.6h-1.6zM167.1 317.5h1.6v1.6h-1.6zM169.3 317.6h1.6v1.6h-1.6zM171.7 317.5h1.6v1.6h-1.6zM173.8 317.5h1.6v1.6h-1.6zM175.9 317.8h1.6v1.6h-1.6zM177.9 317.7h1.6v1.6h-1.6zM180.2 317.6h1.6v1.6h-1.6zM182.3 317.9h1.6v1.6h-1.6zM184.4 317.8h1.6v1.6h-1.6zM188.9 317.8h1.6v1.6h-1.6zM190.9 317.6h1.6v1.6h-1.6zM156.6 319.6h1.6v1.6h-1.6zM158.6 320.0h1.6v1.6h-1.6zM160.7 319.8h1.6v1.6h-1.6zM162.9 319.9h1.6v1.6h-1.6zM165.1 320.0h1.6v1.6h-1.6zM167.2 319.7h1.6v1.6h-1.6zM169.5 319.9h1.6v1.6h-1.6zM171.4 319.8h1.6v1.6h-1.6zM173.8 319.9h1.6v1.6h-1.6zM175.8 319.5h1.6v1.6h-1.6zM177.9 319.5h1.6v1.6h-1.6zM180.2 319.5h1.6v1.6h-1.6zM182.4 319.7h1.6v1.6h-1.6zM184.5 319.7h1.6v1.6h-1.6zM186.7 319.9h1.6v1.6h-1.6zM188.6 319.6h1.6v1.6h-1.6zM190.8 320.0h1.6v1.6h-1.6zM156.4 321.6h1.6v1.6h-1.6zM158.8 321.8h1.6v1.6h-1.6zM160.8 321.5h1.6v1.6h-1.6zM163.1 321.9h1.6v1.6h-1.6zM165.0 321.5h1.6v1.6h-1.6zM167.3 321.6h1.6v1.6h-1.6zM169.4 321.8h1.6v1.6h-1.6zM171.6 321.5h1.6v1.6h-1.6zM175.7 321.6h1.6v1.6h-1.6zM178.0 321.8h1.6v1.6h-1.6zM180.1 321.9h1.6v1.6h-1.6zM182.4 321.9h1.6v1.6h-1.6zM184.4 322.0h1.6v1.6h-1.6zM186.7 321.5h1.6v1.6h-1.6zM188.8 321.5h1.6v1.6h-1.6zM190.8 321.8h1.6v1.6h-1.6zM156.6 323.8h1.6v1.6h-1.6zM158.6 323.8h1.6v1.6h-1.6zM160.7 323.5h1.6v1.6h-1.6zM162.8 324.0h1.6v1.6h-1.6zM165.0 323.5h1.6v1.6h-1.6zM167.4 323.7h1.6v1.6h-1.6zM169.3 324.0h1.6v1.6h-1.6zM171.4 323.5h1.6v1.6h-1.6zM173.6 323.9h1.6v1.6h-1.6zM175.8 323.8h1.6v1.6h-1.6zM178.0 323.5h1.6v1.6h-1.6zM182.4 323.5h1.6v1.6h-1.6zM184.6 323.7h1.6v1.6h-1.6zM186.6 323.8h1.6v1.6h-1.6zM188.8 323.5h1.6v1.6h-1.6zM191.0 323.7h1.6v1.6h-1.6zM156.4 325.9h1.6v1.6h-1.6zM158.8 326.0h1.6v1.6h-1.6zM162.9 325.6h1.6v1.6h-1.6zM165.1 326.0h1.6v1.6h-1.6zM167.2 325.9h1.6v1.6h-1.6zM169.4 325.5h1.6v1.6h-1.6zM171.5 326.0h1.6v1.6h-1.6zM173.6 326.0h1.6v1.6h-1.6zM175.9 326.0h1.6v1.6h-1.6zM178.1 325.8h1.6v1.6h-1.6zM180.1 325.7h1.6v1.6h-1.6zM182.4 325.5h1.6v1.6h-1.6zM184.4 325.5h1.6v1.6h-1.6zM186.5 325.8h1.6v1.6h-1.6zM188.8 325.7h1.6v1.6h-1.6zM190.9 325.5h1.6v1.6h-1.6zM156.4 327.8h1.6v1.6h-1.6zM158.6 327.8h1.6v1.6h-1.6zM160.7 328.0h1.6v1.6h-1.6zM163.1 327.9h1.6v1.6h-1.6zM165.0 327.5h1.6v1.6h-1.6zM167.1 327.7h1.6v1.6h-1.6zM169.3 327.7h1.6v1.6h-1.6zM171.6 327.7h1.6v1.6h-1.6zM173.6 327.7h1.6v1.6h-1.6zM175.7 327.6h1.6v1.6h-1.6zM178.0 328.0h1.6v1.6h-1.6zM180.3 327.7h1.6v1.6h-1.6zM182.3 327.8h1.6v1.6h-1.6zM184.5 327.5h1.6v1.6h-1.6zM186.5 327.7h1.6v1.6h-1.6zM188.7 328.0h1.6v1.6h-1.6zM190.9 327.6h1.6v1.6h-1.6zM156.5 329.8h1.6v1.6h-1.6zM158.5 329.8h1.6v1.6h-1.6zM162.9 329.8h1.6v1.6h-1.6zM165.0 329.9h1.6v1.6h-1.6zM167.3 329.4h1.6v1.6h-1.6zM171.5 329.5h1.6v1.6h-1.6zM173.8 329.8h1.6v1.6h-1.6zM175.8 329.5h1.6v1.6h-1.6zM177.9 329.6h1.6v1.6h-1.6zM184.5 329.7h1.6v1.6h-1.6zM186.8 329.9h1.6v1.6h-1.6zM188.8 329.8h1.6v1.6h-1.6zM191.1 329.5h1.6v1.6h-1.6zM157.0 332.0h1.6v1.6h-1.6zM159.4 331.5h1.6v1.6h-1.6zM161.7 332.0h1.6v1.6h-1.6zM163.8 331.9h1.6v1.6h-1.6zM165.9 332.0h1.6v1.6h-1.6zM168.3 331.6h1.6v1.6h-1.6zM172.7 331.5h1.6v1.6h-1.6zM176.9 332.0h1.6v1.6h-1.6zM179.1 331.7h1.6v1.6h-1.6zM181.4 332.0h1.6v1.6h-1.6zM183.7 331.7h1.6v1.6h-1.6zM186.0 331.9h1.6v1.6h-1.6zM190.3 331.5h1.6v1.6h-1.6zM161.3 334.1h1.6v1.6h-1.6zM163.3 333.9h1.6v1.6h-1.6zM165.6 334.1h1.6v1.6h-1.6zM168.1 333.9h1.6v1.6h-1.6zM170.2 333.8h1.6v1.6h-1.6zM174.8 333.7h1.6v1.6h-1.6zM177.2 333.9h1.6v1.6h-1.6zM179.5 333.7h1.6v1.6h-1.6zM181.5 334.1h1.6v1.6h-1.6zM183.8 334.2h1.6v1.6h-1.6zM186.1 334.2h1.6v1.6h-1.6zM188.6 333.9h1.6v1.6h-1.6z" fill="#000"/><path d="M310.2 265.2h1.6v1.6h-1.6zM310.1 268.4h1.6v1.6h-1.6zM309.1 271.8h1.6v1.6h-1.6zM311.5 271.7h1.6v1.6h-1.6zM309.0 275.1h1.6v1.6h-1.6zM311.7 275.3h1.6v1.6h-1.6zM309.0 278.2h1.6v1.6h-1.6zM307.7 281.2h1.6v1.6h-1.6zM310.3 281.5h1.6v1.6h-1.6zM312.8 281.5h1.6v1.6h-1.6zM310.2 284.2h1.6v1.6h-1.6zM311.5 287.0h1.6v1.6h-1.6zM306.4 290.3h1.6v1.6h-1.6zM308.9 290.4h1.6v1.6h-1.6zM311.5 290.4h1.6v1.6h-1.6zM314.1 290.2h1.6v1.6h-1.6zM306.4 293.3h1.6v1.6h-1.6zM309.1 293.3h1.6v1.6h-1.6zM311.5 293.0h1.6v1.6h-1.6zM314.2 293.4h1.6v1.6h-1.6zM306.3 296.4h1.6v1.6h-1.6zM309.0 295.9h1.6v1.6h-1.6zM311.4 296.0h1.6v1.6h-1.6zM314.3 296.4h1.6v1.6h-1.6zM306.5 298.8h1.6v1.6h-1.6zM308.9 298.8h1.6v1.6h-1.6zM311.5 298.9h1.6v1.6h-1.6zM306.4 301.8h1.6v1.6h-1.6zM311.6 301.7h1.6v1.6h-1.6zM314.2 301.8h1.6v1.6h-1.6zM305.1 304.4h1.6v1.6h-1.6zM307.8 304.6h1.6v1.6h-1.6zM310.3 304.4h1.6v1.6h-1.6zM312.7 304.8h1.6v1.6h-1.6zM315.4 304.8h1.6v1.6h-1.6zM304.9 307.3h1.6v1.6h-1.6zM307.7 307.2h1.6v1.6h-1.6zM312.8 307.3h1.6v1.6h-1.6zM303.8 309.8h1.6v1.6h-1.6zM308.9 309.8h1.6v1.6h-1.6zM314.0 310.1h1.6v1.6h-1.6zM316.7 310.0h1.6v1.6h-1.6zM299.9 312.1h1.6v1.6h-1.6zM302.5 312.6h1.6v1.6h-1.6zM305.1 312.3h1.6v1.6h-1.6zM307.6 312.6h1.6v1.6h-1.6zM310.3 312.2h1.6v1.6h-1.6zM312.9 312.4h1.6v1.6h-1.6zM320.6 312.5h1.6v1.6h-1.6zM296.4 315.0h1.6v1.6h-1.6zM298.8 314.6h1.6v1.6h-1.6zM301.5 314.7h1.6v1.6h-1.6zM303.8 314.6h1.6v1.6h-1.6zM306.6 315.1h1.6v1.6h-1.6zM309.0 314.6h1.6v1.6h-1.6zM313.9 315.0h1.6v1.6h-1.6zM316.5 314.6h1.6v1.6h-1.6zM319.1 315.1h1.6v1.6h-1.6zM321.7 314.6h1.6v1.6h-1.6zM324.2 314.8h1.6v1.6h-1.6zM296.4 317.5h1.6v1.6h-1.6zM299.1 317.5h1.6v1.6h-1.6zM301.3 317.5h1.6v1.6h-1.6zM304.0 317.3h1.6v1.6h-1.6zM306.5 317.4h1.6v1.6h-1.6zM308.9 317.3h1.6v1.6h-1.6zM311.4 317.5h1.6v1.6h-1.6zM316.6 317.2h1.6v1.6h-1.6zM321.5 317.1h1.6v1.6h-1.6zM324.0 317.4h1.6v1.6h-1.6zM292.7 319.5h1.6v1.6h-1.6zM295.2 319.5h1.6v1.6h-1.6zM297.7 319.7h1.6v1.6h-1.6zM300.3 319.5h1.6v1.6h-1.6zM302.7 319.8h1.6v1.6h-1.6zM307.9 320.0h1.6v1.6h-1.6zM310.3 319.4h1.6v1.6h-1.6zM312.6 319.9h1.6v1.6h-1.6zM315.3 319.6h1.6v1.6h-1.6zM317.6 319.8h1.6v1.6h-1.6zM322.6 319.5h1.6v1.6h-1.6zM325.3 319.9h1.6v1.6h-1.6zM327.6 319.5h1.6v1.6h-1.6zM292.8 322.1h1.6v1.6h-1.6zM300.2 322.3h1.6v1.6h-1.6zM302.6 322.1h1.6v1.6h-1.6zM305.1 322.0h1.6v1.6h-1.6zM307.8 322.2h1.6v1.6h-1.6zM315.3 322.0h1.6v1.6h-1.6zM317.8 321.9h1.6v1.6h-1.6zM320.1 322.2h1.6v1.6h-1.6zM322.6 322.3h1.6v1.6h-1.6zM325.2 321.8h1.6v1.6h-1.6zM292.6 324.4h1.6v1.6h-1.6zM295.3 324.5h1.6v1.6h-1.6zM297.6 324.3h1.6v1.6h-1.6zM302.6 324.6h1.6v1.6h-1.6zM305.1 324.5h1.6v1.6h-1.6zM307.8 324.6h1.6v1.6h-1.6zM310.1 324.6h1.6v1.6h-1.6zM312.7 324.4h1.6v1.6h-1.6zM315.3 324.3h1.6v1.6h-1.6zM317.8 324.5h1.6v1.6h-1.6zM320.3 324.6h1.6v1.6h-1.6zM322.6 324.8h1.6v1.6h-1.6zM325.2 324.7h1.6v1.6h-1.6zM327.8 324.6h1.6v1.6h-1.6zM292.6 327.2h1.6v1.6h-1.6zM295.1 326.6h1.6v1.6h-1.6zM297.9 326.7h1.6v1.6h-1.6zM300.4 327.0h1.6v1.6h-1.6zM305.1 326.6h1.6v1.6h-1.6zM307.6 327.2h1.6v1.6h-1.6zM310.1 327.1h1.6v1.6h-1.6zM312.7 326.7h1.6v1.6h-1.6zM315.3 327.2h1.6v1.6h-1.6zM317.8 326.9h1.6v1.6h-1.6zM320.2 327.0h1.6v1.6h-1.6zM322.8 326.7h1.6v1.6h-1.6zM325.2 326.8h1.6v1.6h-1.6zM327.6 327.1h1.6v1.6h-1.6zM303.8 329.1h1.6v1.6h-1.6zM306.3 329.3h1.6v1.6h-1.6zM309.1 329.3h1.6v1.6h-1.6zM311.4 329.4h1.6v1.6h-1.6zM319.1 329.2h1.6v1.6h-1.6zM305.1 332.1h1.6v1.6h-1.6zM307.5 331.6h1.6v1.6h-1.6zM310.3 331.9h1.6v1.6h-1.6zM312.8 331.8h1.6v1.6h-1.6zM315.5 332.1h1.6v1.6h-1.6zM306.4 334.6h1.6v1.6h-1.6zM308.8 334.6h1.6v1.6h-1.6zM311.5 334.7h1.6v1.6h-1.6zM314.3 334.4h1.6v1.6h-1.6zM362.0 214.1h1.6v1.6h-1.6zM362.0 218.0h1.6v1.6h-1.6zM363.4 221.5h1.6v1.6h-1.6zM360.6 224.5h1.6v1.6h-1.6zM363.2 224.7h1.6v1.6h-1.6zM360.8 228.0h1.6v1.6h-1.6zM360.6 231.2h1.6v1.6h-1.6zM363.4 231.0h1.6v1.6h-1.6zM362.0 234.3h1.6v1.6h-1.6zM364.8 234.2h1.6v1.6h-1.6zM359.6 237.1h1.6v1.6h-1.6zM362.0 237.6h1.6v1.6h-1.6zM364.6 237.5h1.6v1.6h-1.6zM358.1 240.6h1.6v1.6h-1.6zM360.8 240.6h1.6v1.6h-1.6zM363.3 240.2h1.6v1.6h-1.6zM365.8 240.3h1.6v1.6h-1.6zM358.2 243.6h1.6v1.6h-1.6zM360.8 243.4h1.6v1.6h-1.6zM363.2 243.2h1.6v1.6h-1.6zM365.8 243.3h1.6v1.6h-1.6zM360.7 246.7h1.6v1.6h-1.6zM363.2 246.4h1.6v1.6h-1.6zM366.0 246.5h1.6v1.6h-1.6zM355.7 249.3h1.6v1.6h-1.6zM360.8 249.3h1.6v1.6h-1.6zM368.5 249.1h1.6v1.6h-1.6zM358.2 252.3h1.6v1.6h-1.6zM360.6 252.1h1.6v1.6h-1.6zM363.5 252.2h1.6v1.6h-1.6zM365.9 252.1h1.6v1.6h-1.6zM368.4 252.5h1.6v1.6h-1.6zM358.2 254.8h1.6v1.6h-1.6zM360.7 255.0h1.6v1.6h-1.6zM363.2 254.9h1.6v1.6h-1.6zM365.9 255.0h1.6v1.6h-1.6zM368.4 254.9h1.6v1.6h-1.6zM354.2 257.8h1.6v1.6h-1.6zM356.9 257.5h1.6v1.6h-1.6zM359.5 257.6h1.6v1.6h-1.6zM362.0 257.5h1.6v1.6h-1.6zM364.7 257.5h1.6v1.6h-1.6zM367.2 257.5h1.6v1.6h-1.6zM369.8 257.5h1.6v1.6h-1.6zM355.5 260.7h1.6v1.6h-1.6zM358.0 260.2h1.6v1.6h-1.6zM360.7 260.6h1.6v1.6h-1.6zM368.7 260.4h1.6v1.6h-1.6zM354.3 262.9h1.6v1.6h-1.6zM356.8 263.3h1.6v1.6h-1.6zM359.5 262.8h1.6v1.6h-1.6zM362.0 262.9h1.6v1.6h-1.6zM364.6 262.8h1.6v1.6h-1.6zM369.7 262.7h1.6v1.6h-1.6zM351.5 265.6h1.6v1.6h-1.6zM354.2 265.5h1.6v1.6h-1.6zM356.9 265.7h1.6v1.6h-1.6zM359.5 265.9h1.6v1.6h-1.6zM362.1 265.6h1.6v1.6h-1.6zM367.1 265.7h1.6v1.6h-1.6zM372.3 265.4h1.6v1.6h-1.6zM352.8 268.4h1.6v1.6h-1.6zM355.7 268.2h1.6v1.6h-1.6zM358.0 268.5h1.6v1.6h-1.6zM360.7 268.2h1.6v1.6h-1.6zM366.1 268.3h1.6v1.6h-1.6zM368.6 268.1h1.6v1.6h-1.6zM353.1 270.7h1.6v1.6h-1.6zM355.5 270.9h1.6v1.6h-1.6zM358.1 270.6h1.6v1.6h-1.6zM360.6 270.9h1.6v1.6h-1.6zM363.3 270.8h1.6v1.6h-1.6zM365.8 270.6h1.6v1.6h-1.6zM368.7 270.6h1.6v1.6h-1.6zM371.1 270.9h1.6v1.6h-1.6zM350.2 273.2h1.6v1.6h-1.6zM352.9 273.3h1.6v1.6h-1.6zM358.2 273.6h1.6v1.6h-1.6zM360.9 273.3h1.6v1.6h-1.6zM363.4 273.1h1.6v1.6h-1.6zM365.9 273.2h1.6v1.6h-1.6zM373.7 273.6h1.6v1.6h-1.6zM350.3 275.7h1.6v1.6h-1.6zM353.0 276.0h1.6v1.6h-1.6zM355.6 276.2h1.6v1.6h-1.6zM358.0 276.1h1.6v1.6h-1.6zM360.6 276.0h1.6v1.6h-1.6zM363.2 275.8h1.6v1.6h-1.6zM366.0 275.6h1.6v1.6h-1.6zM368.6 275.9h1.6v1.6h-1.6zM371.2 275.6h1.6v1.6h-1.6zM373.8 276.0h1.6v1.6h-1.6zM351.8 278.6h1.6v1.6h-1.6zM354.2 278.7h1.6v1.6h-1.6zM356.8 278.7h1.6v1.6h-1.6zM362.1 278.3h1.6v1.6h-1.6zM364.7 278.2h1.6v1.6h-1.6zM367.1 278.3h1.6v1.6h-1.6zM369.7 278.4h1.6v1.6h-1.6zM372.3 278.5h1.6v1.6h-1.6zM350.3 281.1h1.6v1.6h-1.6zM352.8 280.9h1.6v1.6h-1.6zM355.6 280.7h1.6v1.6h-1.6zM358.3 281.1h1.6v1.6h-1.6zM360.8 281.0h1.6v1.6h-1.6zM363.5 280.7h1.6v1.6h-1.6zM365.9 280.8h1.6v1.6h-1.6zM368.6 281.1h1.6v1.6h-1.6zM373.6 280.6h1.6v1.6h-1.6zM351.6 283.2h1.6v1.6h-1.6zM354.1 283.5h1.6v1.6h-1.6zM356.7 283.3h1.6v1.6h-1.6zM359.6 283.1h1.6v1.6h-1.6zM362.2 283.7h1.6v1.6h-1.6zM364.6 283.4h1.6v1.6h-1.6zM367.2 283.4h1.6v1.6h-1.6zM369.7 283.2h1.6v1.6h-1.6zM372.3 283.5h1.6v1.6h-1.6zM351.7 286.1h1.6v1.6h-1.6zM354.2 285.7h1.6v1.6h-1.6zM359.3 285.7h1.6v1.6h-1.6zM362.0 286.1h1.6v1.6h-1.6zM364.7 286.1h1.6v1.6h-1.6zM367.3 285.7h1.6v1.6h-1.6zM369.9 286.1h1.6v1.6h-1.6zM372.3 286.0h1.6v1.6h-1.6zM351.5 288.5h1.6v1.6h-1.6zM354.3 288.3h1.6v1.6h-1.6zM356.8 288.4h1.6v1.6h-1.6zM359.3 288.6h1.6v1.6h-1.6zM362.0 288.5h1.6v1.6h-1.6zM364.7 288.7h1.6v1.6h-1.6zM367.2 288.5h1.6v1.6h-1.6zM369.7 288.3h1.6v1.6h-1.6zM372.5 288.6h1.6v1.6h-1.6zM350.3 290.8h1.6v1.6h-1.6zM352.8 291.0h1.6v1.6h-1.6zM355.4 290.9h1.6v1.6h-1.6zM358.3 291.2h1.6v1.6h-1.6zM360.6 290.7h1.6v1.6h-1.6zM363.3 290.8h1.6v1.6h-1.6zM365.9 291.1h1.6v1.6h-1.6zM368.4 290.9h1.6v1.6h-1.6zM371.1 291.0h1.6v1.6h-1.6zM373.7 290.9h1.6v1.6h-1.6zM351.6 293.4h1.6v1.6h-1.6zM359.3 293.4h1.6v1.6h-1.6zM362.0 293.2h1.6v1.6h-1.6zM369.8 293.5h1.6v1.6h-1.6zM372.3 293.6h1.6v1.6h-1.6zM351.5 295.9h1.6v1.6h-1.6zM354.4 295.7h1.6v1.6h-1.6zM356.9 295.7h1.6v1.6h-1.6zM359.3 295.7h1.6v1.6h-1.6zM362.1 295.7h1.6v1.6h-1.6zM364.7 295.9h1.6v1.6h-1.6zM367.1 295.8h1.6v1.6h-1.6zM372.4 296.1h1.6v1.6h-1.6zM354.4 298.5h1.6v1.6h-1.6zM356.8 298.6h1.6v1.6h-1.6zM359.3 298.2h1.6v1.6h-1.6zM364.7 298.3h1.6v1.6h-1.6zM367.2 298.4h1.6v1.6h-1.6zM372.5 298.3h1.6v1.6h-1.6zM354.2 300.7h1.6v1.6h-1.6zM356.9 301.1h1.6v1.6h-1.6zM359.3 301.1h1.6v1.6h-1.6zM362.1 301.2h1.6v1.6h-1.6zM364.7 301.1h1.6v1.6h-1.6zM367.2 300.9h1.6v1.6h-1.6zM369.8 300.7h1.6v1.6h-1.6zM356.9 303.7h1.6v1.6h-1.6zM359.3 303.7h1.6v1.6h-1.6zM362.2 303.6h1.6v1.6h-1.6zM364.7 303.3h1.6v1.6h-1.6zM367.2 303.6h1.6v1.6h-1.6zM369.8 303.3h1.6v1.6h-1.6zM353.0 306.1h1.6v1.6h-1.6zM358.3 306.1h1.6v1.6h-1.6zM360.8 305.7h1.6v1.6h-1.6zM365.9 305.8h1.6v1.6h-1.6zM368.6 306.1h1.6v1.6h-1.6zM371.1 305.8h1.6v1.6h-1.6zM355.4 308.6h1.6v1.6h-1.6zM358.0 308.2h1.6v1.6h-1.6zM360.6 308.4h1.6v1.6h-1.6zM363.4 308.7h1.6v1.6h-1.6zM366.0 308.6h1.6v1.6h-1.6zM368.6 308.5h1.6v1.6h-1.6zM356.7 310.9h1.6v1.6h-1.6zM359.4 310.9h1.6v1.6h-1.6zM362.1 311.0h1.6v1.6h-1.6zM364.6 310.8h1.6v1.6h-1.6zM369.7 311.1h1.6v1.6h-1.6zM355.5 313.5h1.6v1.6h-1.6zM358.0 313.3h1.6v1.6h-1.6zM360.8 313.2h1.6v1.6h-1.6zM363.4 313.5h1.6v1.6h-1.6zM366.0 313.6h1.6v1.6h-1.6zM368.5 313.5h1.6v1.6h-1.6zM352.9 315.7h1.6v1.6h-1.6zM355.4 315.8h1.6v1.6h-1.6zM358.2 315.6h1.6v1.6h-1.6zM366.0 315.6h1.6v1.6h-1.6zM371.2 316.0h1.6v1.6h-1.6zM358.0 318.2h1.6v1.6h-1.6zM368.7 318.2h1.6v1.6h-1.6zM353.1 320.5h1.6v1.6h-1.6zM355.5 320.5h1.6v1.6h-1.6zM358.2 320.6h1.6v1.6h-1.6zM360.6 320.5h1.6v1.6h-1.6zM363.4 320.4h1.6v1.6h-1.6zM365.9 320.4h1.6v1.6h-1.6zM368.6 320.4h1.6v1.6h-1.6zM371.1 320.7h1.6v1.6h-1.6zM346.9 323.2h1.6v1.6h-1.6zM352.1 323.0h1.6v1.6h-1.6zM354.4 323.2h1.6v1.6h-1.6zM356.9 323.0h1.6v1.6h-1.6zM359.7 322.9h1.6v1.6h-1.6zM361.9 322.8h1.6v1.6h-1.6zM364.5 323.1h1.6v1.6h-1.6zM366.9 322.8h1.6v1.6h-1.6zM369.5 322.9h1.6v1.6h-1.6zM372.0 323.0h1.6v1.6h-1.6zM374.7 323.0h1.6v1.6h-1.6zM347.1 325.2h1.6v1.6h-1.6zM349.4 325.5h1.6v1.6h-1.6zM354.5 325.3h1.6v1.6h-1.6zM357.1 325.3h1.6v1.6h-1.6zM359.6 325.4h1.6v1.6h-1.6zM362.1 325.5h1.6v1.6h-1.6zM364.6 325.6h1.6v1.6h-1.6zM367.0 325.3h1.6v1.6h-1.6zM369.6 325.5h1.6v1.6h-1.6zM374.5 325.6h1.6v1.6h-1.6zM377.1 325.5h1.6v1.6h-1.6zM345.9 327.8h1.6v1.6h-1.6zM348.2 327.6h1.6v1.6h-1.6zM353.1 327.7h1.6v1.6h-1.6zM355.8 327.7h1.6v1.6h-1.6zM360.8 328.1h1.6v1.6h-1.6zM363.3 327.7h1.6v1.6h-1.6zM365.8 328.0h1.6v1.6h-1.6zM368.2 327.7h1.6v1.6h-1.6zM370.9 327.8h1.6v1.6h-1.6zM373.2 328.0h1.6v1.6h-1.6zM375.8 327.5h1.6v1.6h-1.6zM378.1 328.0h1.6v1.6h-1.6zM344.4 329.9h1.6v1.6h-1.6zM347.1 330.3h1.6v1.6h-1.6zM354.7 329.9h1.6v1.6h-1.6zM359.4 330.3h1.6v1.6h-1.6zM364.4 330.4h1.6v1.6h-1.6zM367.1 330.5h1.6v1.6h-1.6zM369.4 330.0h1.6v1.6h-1.6zM372.1 330.3h1.6v1.6h-1.6zM374.4 330.0h1.6v1.6h-1.6zM377.1 330.5h1.6v1.6h-1.6zM379.7 330.2h1.6v1.6h-1.6zM351.8 332.9h1.6v1.6h-1.6zM356.8 332.4h1.6v1.6h-1.6zM359.4 332.7h1.6v1.6h-1.6zM362.0 332.7h1.6v1.6h-1.6zM364.6 332.8h1.6v1.6h-1.6zM367.1 332.8h1.6v1.6h-1.6zM369.6 332.5h1.6v1.6h-1.6zM356.9 334.8h1.6v1.6h-1.6zM359.4 335.2h1.6v1.6h-1.6zM362.1 335.2h1.6v1.6h-1.6zM364.5 335.2h1.6v1.6h-1.6zM367.3 335.1h1.6v1.6h-1.6zM413.4 265.0h1.6v1.6h-1.6zM413.2 267.7h1.6v1.6h-1.6zM413.3 271.2h1.6v1.6h-1.6zM414.5 274.6h1.6v1.6h-1.6zM410.5 277.9h1.6v1.6h-1.6zM413.2 277.9h1.6v1.6h-1.6zM416.0 277.8h1.6v1.6h-1.6zM409.3 280.9h1.6v1.6h-1.6zM411.9 280.9h1.6v1.6h-1.6zM414.6 280.4h1.6v1.6h-1.6zM417.0 280.9h1.6v1.6h-1.6zM408.0 283.7h1.6v1.6h-1.6zM410.5 283.6h1.6v1.6h-1.6zM413.1 283.6h1.6v1.6h-1.6zM415.8 283.8h1.6v1.6h-1.6zM405.4 286.6h1.6v1.6h-1.6zM408.0 286.6h1.6v1.6h-1.6zM410.8 286.4h1.6v1.6h-1.6zM413.3 286.2h1.6v1.6h-1.6zM415.7 286.7h1.6v1.6h-1.6zM418.5 286.2h1.6v1.6h-1.6zM421.0 286.3h1.6v1.6h-1.6zM405.4 289.0h1.6v1.6h-1.6zM413.2 289.2h1.6v1.6h-1.6zM415.9 289.1h1.6v1.6h-1.6zM420.9 289.4h1.6v1.6h-1.6zM406.7 291.9h1.6v1.6h-1.6zM409.5 292.0h1.6v1.6h-1.6zM411.9 292.2h1.6v1.6h-1.6zM414.6 292.0h1.6v1.6h-1.6zM419.8 292.0h1.6v1.6h-1.6zM405.3 295.0h1.6v1.6h-1.6zM408.1 294.9h1.6v1.6h-1.6zM410.6 294.9h1.6v1.6h-1.6zM418.5 294.7h1.6v1.6h-1.6zM420.9 294.5h1.6v1.6h-1.6zM405.4 297.3h1.6v1.6h-1.6zM408.1 297.5h1.6v1.6h-1.6zM410.7 297.3h1.6v1.6h-1.6zM418.4 297.7h1.6v1.6h-1.6zM421.0 297.3h1.6v1.6h-1.6zM406.6 300.0h1.6v1.6h-1.6zM409.3 300.4h1.6v1.6h-1.6zM411.9 300.4h1.6v1.6h-1.6zM414.5 300.3h1.6v1.6h-1.6zM417.1 300.2h1.6v1.6h-1.6zM419.9 299.9h1.6v1.6h-1.6zM404.0 302.8h1.6v1.6h-1.6zM406.7 302.5h1.6v1.6h-1.6zM409.4 302.9h1.6v1.6h-1.6zM417.2 302.4h1.6v1.6h-1.6zM419.7 303.0h1.6v1.6h-1.6zM422.3 302.4h1.6v1.6h-1.6zM408.1 305.1h1.6v1.6h-1.6zM410.5 305.6h1.6v1.6h-1.6zM413.4 305.2h1.6v1.6h-1.6zM418.4 305.6h1.6v1.6h-1.6zM421.1 305.1h1.6v1.6h-1.6zM405.5 307.8h1.6v1.6h-1.6zM408.0 308.0h1.6v1.6h-1.6zM418.5 307.7h1.6v1.6h-1.6zM421.0 307.9h1.6v1.6h-1.6zM405.3 310.3h1.6v1.6h-1.6zM408.1 310.3h1.6v1.6h-1.6zM410.6 310.5h1.6v1.6h-1.6zM413.2 310.2h1.6v1.6h-1.6zM415.8 310.3h1.6v1.6h-1.6zM418.3 310.7h1.6v1.6h-1.6zM420.9 310.5h1.6v1.6h-1.6zM403.1 312.8h1.6v1.6h-1.6zM405.7 313.0h1.6v1.6h-1.6zM408.2 313.1h1.6v1.6h-1.6zM410.5 312.8h1.6v1.6h-1.6zM413.1 313.1h1.6v1.6h-1.6zM415.7 313.0h1.6v1.6h-1.6zM420.8 312.9h1.6v1.6h-1.6zM423.6 313.1h1.6v1.6h-1.6zM400.6 315.2h1.6v1.6h-1.6zM403.3 315.3h1.6v1.6h-1.6zM405.6 315.5h1.6v1.6h-1.6zM408.1 315.6h1.6v1.6h-1.6zM410.7 315.3h1.6v1.6h-1.6zM413.2 315.6h1.6v1.6h-1.6zM415.8 315.2h1.6v1.6h-1.6zM418.2 315.3h1.6v1.6h-1.6zM420.8 315.8h1.6v1.6h-1.6zM423.2 315.6h1.6v1.6h-1.6zM425.7 315.6h1.6v1.6h-1.6zM398.1 317.9h1.6v1.6h-1.6zM405.7 317.8h1.6v1.6h-1.6zM408.3 317.9h1.6v1.6h-1.6zM410.7 318.1h1.6v1.6h-1.6zM413.2 317.6h1.6v1.6h-1.6zM415.6 318.0h1.6v1.6h-1.6zM418.2 318.1h1.6v1.6h-1.6zM420.8 318.0h1.6v1.6h-1.6zM423.2 317.6h1.6v1.6h-1.6zM425.8 317.8h1.6v1.6h-1.6zM428.2 318.0h1.6v1.6h-1.6zM396.1 320.2h1.6v1.6h-1.6zM398.3 320.4h1.6v1.6h-1.6zM403.3 320.5h1.6v1.6h-1.6zM405.7 320.2h1.6v1.6h-1.6zM408.1 320.0h1.6v1.6h-1.6zM410.9 320.6h1.6v1.6h-1.6zM413.3 320.4h1.6v1.6h-1.6zM418.3 320.3h1.6v1.6h-1.6zM423.0 320.3h1.6v1.6h-1.6zM425.5 320.2h1.6v1.6h-1.6zM428.0 320.1h1.6v1.6h-1.6zM430.5 320.3h1.6v1.6h-1.6zM395.3 322.4h1.6v1.6h-1.6zM397.6 322.7h1.6v1.6h-1.6zM400.1 322.6h1.6v1.6h-1.6zM402.6 322.6h1.6v1.6h-1.6zM404.8 322.5h1.6v1.6h-1.6zM407.3 322.6h1.6v1.6h-1.6zM409.5 322.6h1.6v1.6h-1.6zM412.0 322.5h1.6v1.6h-1.6zM414.5 322.4h1.6v1.6h-1.6zM416.9 322.7h1.6v1.6h-1.6zM419.3 322.7h1.6v1.6h-1.6zM421.5 322.5h1.6v1.6h-1.6zM424.2 322.6h1.6v1.6h-1.6zM426.6 322.8h1.6v1.6h-1.6zM428.8 322.4h1.6v1.6h-1.6zM431.3 322.6h1.6v1.6h-1.6zM395.2 324.8h1.6v1.6h-1.6zM397.7 325.0h1.6v1.6h-1.6zM400.0 324.7h1.6v1.6h-1.6zM402.6 324.6h1.6v1.6h-1.6zM404.8 325.0h1.6v1.6h-1.6zM407.2 325.0h1.6v1.6h-1.6zM411.9 325.0h1.6v1.6h-1.6zM414.3 325.0h1.6v1.6h-1.6zM416.8 324.8h1.6v1.6h-1.6zM419.1 324.7h1.6v1.6h-1.6zM421.5 324.7h1.6v1.6h-1.6zM424.0 324.9h1.6v1.6h-1.6zM426.3 324.5h1.6v1.6h-1.6zM428.9 324.7h1.6v1.6h-1.6zM431.3 325.0h1.6v1.6h-1.6zM395.3 327.0h1.6v1.6h-1.6zM397.5 326.9h1.6v1.6h-1.6zM400.1 327.0h1.6v1.6h-1.6zM402.3 326.9h1.6v1.6h-1.6zM404.8 327.2h1.6v1.6h-1.6zM407.4 326.8h1.6v1.6h-1.6zM409.5 327.0h1.6v1.6h-1.6zM411.9 327.2h1.6v1.6h-1.6zM414.4 327.2h1.6v1.6h-1.6zM417.0 326.7h1.6v1.6h-1.6zM419.1 327.1h1.6v1.6h-1.6zM421.7 327.0h1.6v1.6h-1.6zM424.1 326.8h1.6v1.6h-1.6zM426.5 327.0h1.6v1.6h-1.6zM431.2 326.8h1.6v1.6h-1.6zM395.1 328.9h1.6v1.6h-1.6zM397.6 329.2h1.6v1.6h-1.6zM400.1 329.2h1.6v1.6h-1.6zM404.8 329.2h1.6v1.6h-1.6zM407.3 329.0h1.6v1.6h-1.6zM409.6 329.1h1.6v1.6h-1.6zM412.0 329.1h1.6v1.6h-1.6zM414.6 329.1h1.6v1.6h-1.6zM416.9 329.2h1.6v1.6h-1.6zM419.2 329.4h1.6v1.6h-1.6zM421.6 329.5h1.6v1.6h-1.6zM424.0 329.0h1.6v1.6h-1.6zM426.5 329.2h1.6v1.6h-1.6zM428.7 329.4h1.6v1.6h-1.6zM431.3 329.1h1.6v1.6h-1.6zM395.1 331.2h1.6v1.6h-1.6zM400.1 331.4h1.6v1.6h-1.6zM402.3 331.2h1.6v1.6h-1.6zM404.9 331.2h1.6v1.6h-1.6zM407.1 331.5h1.6v1.6h-1.6zM409.6 331.3h1.6v1.6h-1.6zM411.9 331.4h1.6v1.6h-1.6zM414.3 331.3h1.6v1.6h-1.6zM416.8 331.5h1.6v1.6h-1.6zM419.2 331.2h1.6v1.6h-1.6zM421.7 331.4h1.6v1.6h-1.6zM424.0 331.4h1.6v1.6h-1.6zM428.9 331.2h1.6v1.6h-1.6zM431.1 331.6h1.6v1.6h-1.6zM397.6 333.8h1.6v1.6h-1.6zM400.1 333.6h1.6v1.6h-1.6zM402.5 333.6h1.6v1.6h-1.6zM404.9 333.6h1.6v1.6h-1.6zM407.1 333.8h1.6v1.6h-1.6zM409.5 333.5h1.6v1.6h-1.6zM411.9 333.7h1.6v1.6h-1.6zM414.3 333.5h1.6v1.6h-1.6zM417.0 333.8h1.6v1.6h-1.6zM419.4 333.6h1.6v1.6h-1.6zM421.6 333.8h1.6v1.6h-1.6zM424.1 333.4h1.6v1.6h-1.6zM426.6 333.6h1.6v1.6h-1.6zM428.9 333.4h1.6v1.6h-1.6zM431.2 333.8h1.6v1.6h-1.6zM396.2 336.1h1.6v1.6h-1.6zM398.8 336.0h1.6v1.6h-1.6zM401.2 335.7h1.6v1.6h-1.6zM403.5 336.1h1.6v1.6h-1.6zM406.0 335.8h1.6v1.6h-1.6zM408.5 335.9h1.6v1.6h-1.6zM413.1 335.7h1.6v1.6h-1.6zM415.7 335.7h1.6v1.6h-1.6zM418.0 336.0h1.6v1.6h-1.6zM420.5 336.0h1.6v1.6h-1.6zM423.0 335.7h1.6v1.6h-1.6zM425.2 335.7h1.6v1.6h-1.6zM427.7 335.7h1.6v1.6h-1.6zM430.1 335.8h1.6v1.6h-1.6zM395.9 337.9h1.6v1.6h-1.6zM400.8 338.1h1.6v1.6h-1.6zM403.3 337.9h1.6v1.6h-1.6zM408.3 338.2h1.6v1.6h-1.6zM410.8 338.3h1.6v1.6h-1.6zM413.1 338.0h1.6v1.6h-1.6zM415.6 337.9h1.6v1.6h-1.6zM420.6 337.9h1.6v1.6h-1.6zM423.1 338.0h1.6v1.6h-1.6zM425.7 338.0h1.6v1.6h-1.6zM430.8 337.9h1.6v1.6h-1.6z" fill="#000"/><path d="M52 313.5H88" stroke="#f50a0a" stroke-width="2.4"/><path d="M60 313.5H80" stroke="#f50a0a" stroke-width="4.8"/><path d="M104 268.6H140" stroke="#f50a0a" stroke-width="2.4"/><path d="M112 268.6H132" stroke="#f50a0a" stroke-width="4.8"/><path d="M156.8 297.2H192.2" stroke="#f50a0a" stroke-width="2.4"/><path d="M164.5 297.2H184.5" stroke="#f50a0a" stroke-width="4.8"/><path d="M293.5 314H328.5" stroke="#f50a0a" stroke-width="2.4"/><path d="M301.5 314H320.5" stroke="#f50a0a" stroke-width="5.5"/><path d="M345.3 290.8H380.3" stroke="#f50a0a" stroke-width="2.2"/><path d="M353.3 290.8H372.3" stroke="#f50a0a" stroke-width="7"/><path d="M396.5 319.3H431.5" stroke="#f50a0a" stroke-width="2.4"/><path d="M404.2 319.3H423.8" stroke="#f50a0a" stroke-width="5.2"/><text x="1.2" y="411.2" font-size="22.5" font-weight="bold" text-anchor="start" >c</text><text x="240.6" y="410.6" font-size="22.5" font-weight="bold" text-anchor="start" >e</text><path d="M63.2 460.5V642H198" stroke="#000" stroke-width="1.9" fill="none"/><path d="M57.7 642.0H63.2" stroke="#000" stroke-width="1.9"/><text x="0" y="0" font-size="14.8" font-weight="bold" text-anchor="end" transform="translate(56.7,648.2) scale(1,1.13)">0</text><path d="M57.7 605.7H63.2" stroke="#000" stroke-width="1.9"/><text x="0" y="0" font-size="14.8" font-weight="bold" text-anchor="end" transform="translate(56.7,611.9) scale(1,1.13)">20</text><path d="M57.7 569.4H63.2" stroke="#000" stroke-width="1.9"/><text x="0" y="0" font-size="14.8" font-weight="bold" text-anchor="end" transform="translate(56.7,575.6) scale(1,1.13)">40</text><path d="M57.7 533.1H63.2" stroke="#000" stroke-width="1.9"/><text x="0" y="0" font-size="14.8" font-weight="bold" text-anchor="end" transform="translate(56.7,539.3) scale(1,1.13)">60</text><path d="M57.7 496.8H63.2" stroke="#000" stroke-width="1.9"/><text x="0" y="0" font-size="14.8" font-weight="bold" text-anchor="end" transform="translate(56.7,503.0) scale(1,1.13)">80</text><path d="M57.7 460.5H63.2" stroke="#000" stroke-width="1.9"/><text x="0" y="0" font-size="14.8" font-weight="bold" text-anchor="end" transform="translate(56.7,466.7) scale(1,1.13)">100</text><path d="M85 642V647.5" stroke="#000" stroke-width="1.9"/><text x="0" y="0" font-size="15" font-weight="bold" text-anchor="end" transform="translate(91,662.5) rotate(-45) scale(1,1.1)">ctl</text><path d="M127.4 642V647.5" stroke="#000" stroke-width="1.9"/><text x="0" y="0" font-size="15" font-weight="bold" text-anchor="end" transform="translate(133.4,662.5) rotate(-45) scale(1,1.1)">0h</text><path d="M170.6 642V647.5" stroke="#000" stroke-width="1.9"/><text x="0" y="0" font-size="15" font-weight="bold" text-anchor="end" transform="translate(176.6,662.5) rotate(-45) scale(1,1.1)">4h</text><text x="0" y="0" font-size="15.2" font-weight="bold" text-anchor="end" transform="translate(23.3,416.0) rotate(-90) scale(1,1.1)">percentge of cells with tail DNA &gt;10%</text><path d="M299.6 460V640.2H430.5" stroke="#000" stroke-width="1.9" fill="none"/><path d="M294.1 640.2H299.6" stroke="#000" stroke-width="1.9"/><text x="0" y="0" font-size="14.8" font-weight="bold" text-anchor="end" transform="translate(293.1,646.4) scale(1,1.13)">0</text><path d="M294.1 595.2H299.6" stroke="#000" stroke-width="1.9"/><text x="0" y="0" font-size="14.8" font-weight="bold" text-anchor="end" transform="translate(293.1,601.4) scale(1,1.13)">20</text><path d="M294.1 550.1H299.6" stroke="#000" stroke-width="1.9"/><text x="0" y="0" font-size="14.8" font-weight="bold" text-anchor="end" transform="translate(293.1,556.3) scale(1,1.13)">40</text><path d="M294.1 505.1H299.6" stroke="#000" stroke-width="1.9"/><text x="0" y="0" font-size="14.8" font-weight="bold" text-anchor="end" transform="translate(293.1,511.2) scale(1,1.13)">60</text><path d="M294.1 460.0H299.6" stroke="#000" stroke-width="1.9"/><text x="0" y="0" font-size="14.8" font-weight="bold" text-anchor="end" transform="translate(293.1,466.2) scale(1,1.13)">80</text><path d="M322 640.2V645.7" stroke="#000" stroke-width="1.9"/><text x="0" y="0" font-size="15" font-weight="bold" text-anchor="end" transform="translate(328,660.7) rotate(-45) scale(1,1.1)">ctl</text><path d="M365 640.2V645.7" stroke="#000" stroke-width="1.9"/><text x="0" y="0" font-size="15" font-weight="bold" text-anchor="end" transform="translate(371,660.7) rotate(-45) scale(1,1.1)">0h</text><path d="M407.5 640.2V645.7" stroke="#000" stroke-width="1.9"/><text x="0" y="0" font-size="15" font-weight="bold" text-anchor="end" transform="translate(413.5,660.7) rotate(-45) scale(1,1.1)">4h</text><text x="0" y="0" font-size="15.2" font-weight="bold" text-anchor="end" transform="translate(268.6,415.0) rotate(-90) scale(1,1.1)">percentge of cells with tail DNA &gt;10%</text><rect x="70.85" y="633.75" width="27.5" height="8.25" fill="#fff" stroke="#000" stroke-width="2.5"/><path d="M84.6 632.5V630.1M76.8 630.1H92.39999999999999" stroke="#000" stroke-width="2.4" stroke-linecap="round"/><rect x="113.25" y="476.45" width="28.69999999999999" height="165.55" fill="#000" stroke="#000" stroke-width="2.5"/><path d="M127.6 475.2V467.8M119.8 467.8H135.4" stroke="#000" stroke-width="2.4" stroke-linecap="round"/><rect x="156.15" y="566.45" width="28.099999999999994" height="75.54999999999995" fill="#818181" stroke="#000" stroke-width="2.5"/><path d="M170.2 565.2V554.4M162.39999999999998 554.4H178.0" stroke="#000" stroke-width="2.4" stroke-linecap="round"/><rect x="308.25" y="593.25" width="27.100000000000023" height="46.950000000000045" fill="#fff" stroke="#000" stroke-width="2.5"/><path d="M321.8 592V569.1M314.0 569.1H329.6" stroke="#000" stroke-width="2.4" stroke-linecap="round"/><rect x="350.65" y="509.45" width="28.700000000000045" height="130.75000000000006" fill="#000" stroke="#000" stroke-width="2.5"/><path d="M365.0 508.2V502.3M357.2 502.3H372.8" stroke="#000" stroke-width="2.4" stroke-linecap="round"/><rect x="393.65" y="607.05" width="28.0" height="33.15000000000009" fill="#818181" stroke="#000" stroke-width="2.5"/><path d="M407.65 605.8V600.3M399.84999999999997 600.3H415.45" stroke="#000" stroke-width="2.4" stroke-linecap="round"/><path d="M84.8 614V428.9H169.6V536M84.8 449H124.9V461.3M169.6 449H129.3V461.3" stroke="#000" stroke-width="1.8" fill="none"/><text x="124.4" y="427.8" font-size="16" font-weight="normal" text-anchor="middle" stroke="#000" stroke-width="0.15">**</text><text x="108.6" y="452" font-size="16" font-weight="normal" text-anchor="middle" stroke="#000" stroke-width="0.15">***</text><text x="151.6" y="452" font-size="16" font-weight="normal" text-anchor="middle" stroke="#000" stroke-width="0.15">**</text><path d="M320.2 543.5V453.2H410.6V582.9M320.2 472.6H366.9V488.8" stroke="#000" stroke-width="1.8" fill="none"/><text x="362.3" y="446.5" font-size="16.5" font-weight="normal" text-anchor="middle" >ns</text><text x="343.7" y="475.0" font-size="14.5" font-weight="normal" text-anchor="middle" stroke="#000" stroke-width="0.15">*</text></svg></body></html>
